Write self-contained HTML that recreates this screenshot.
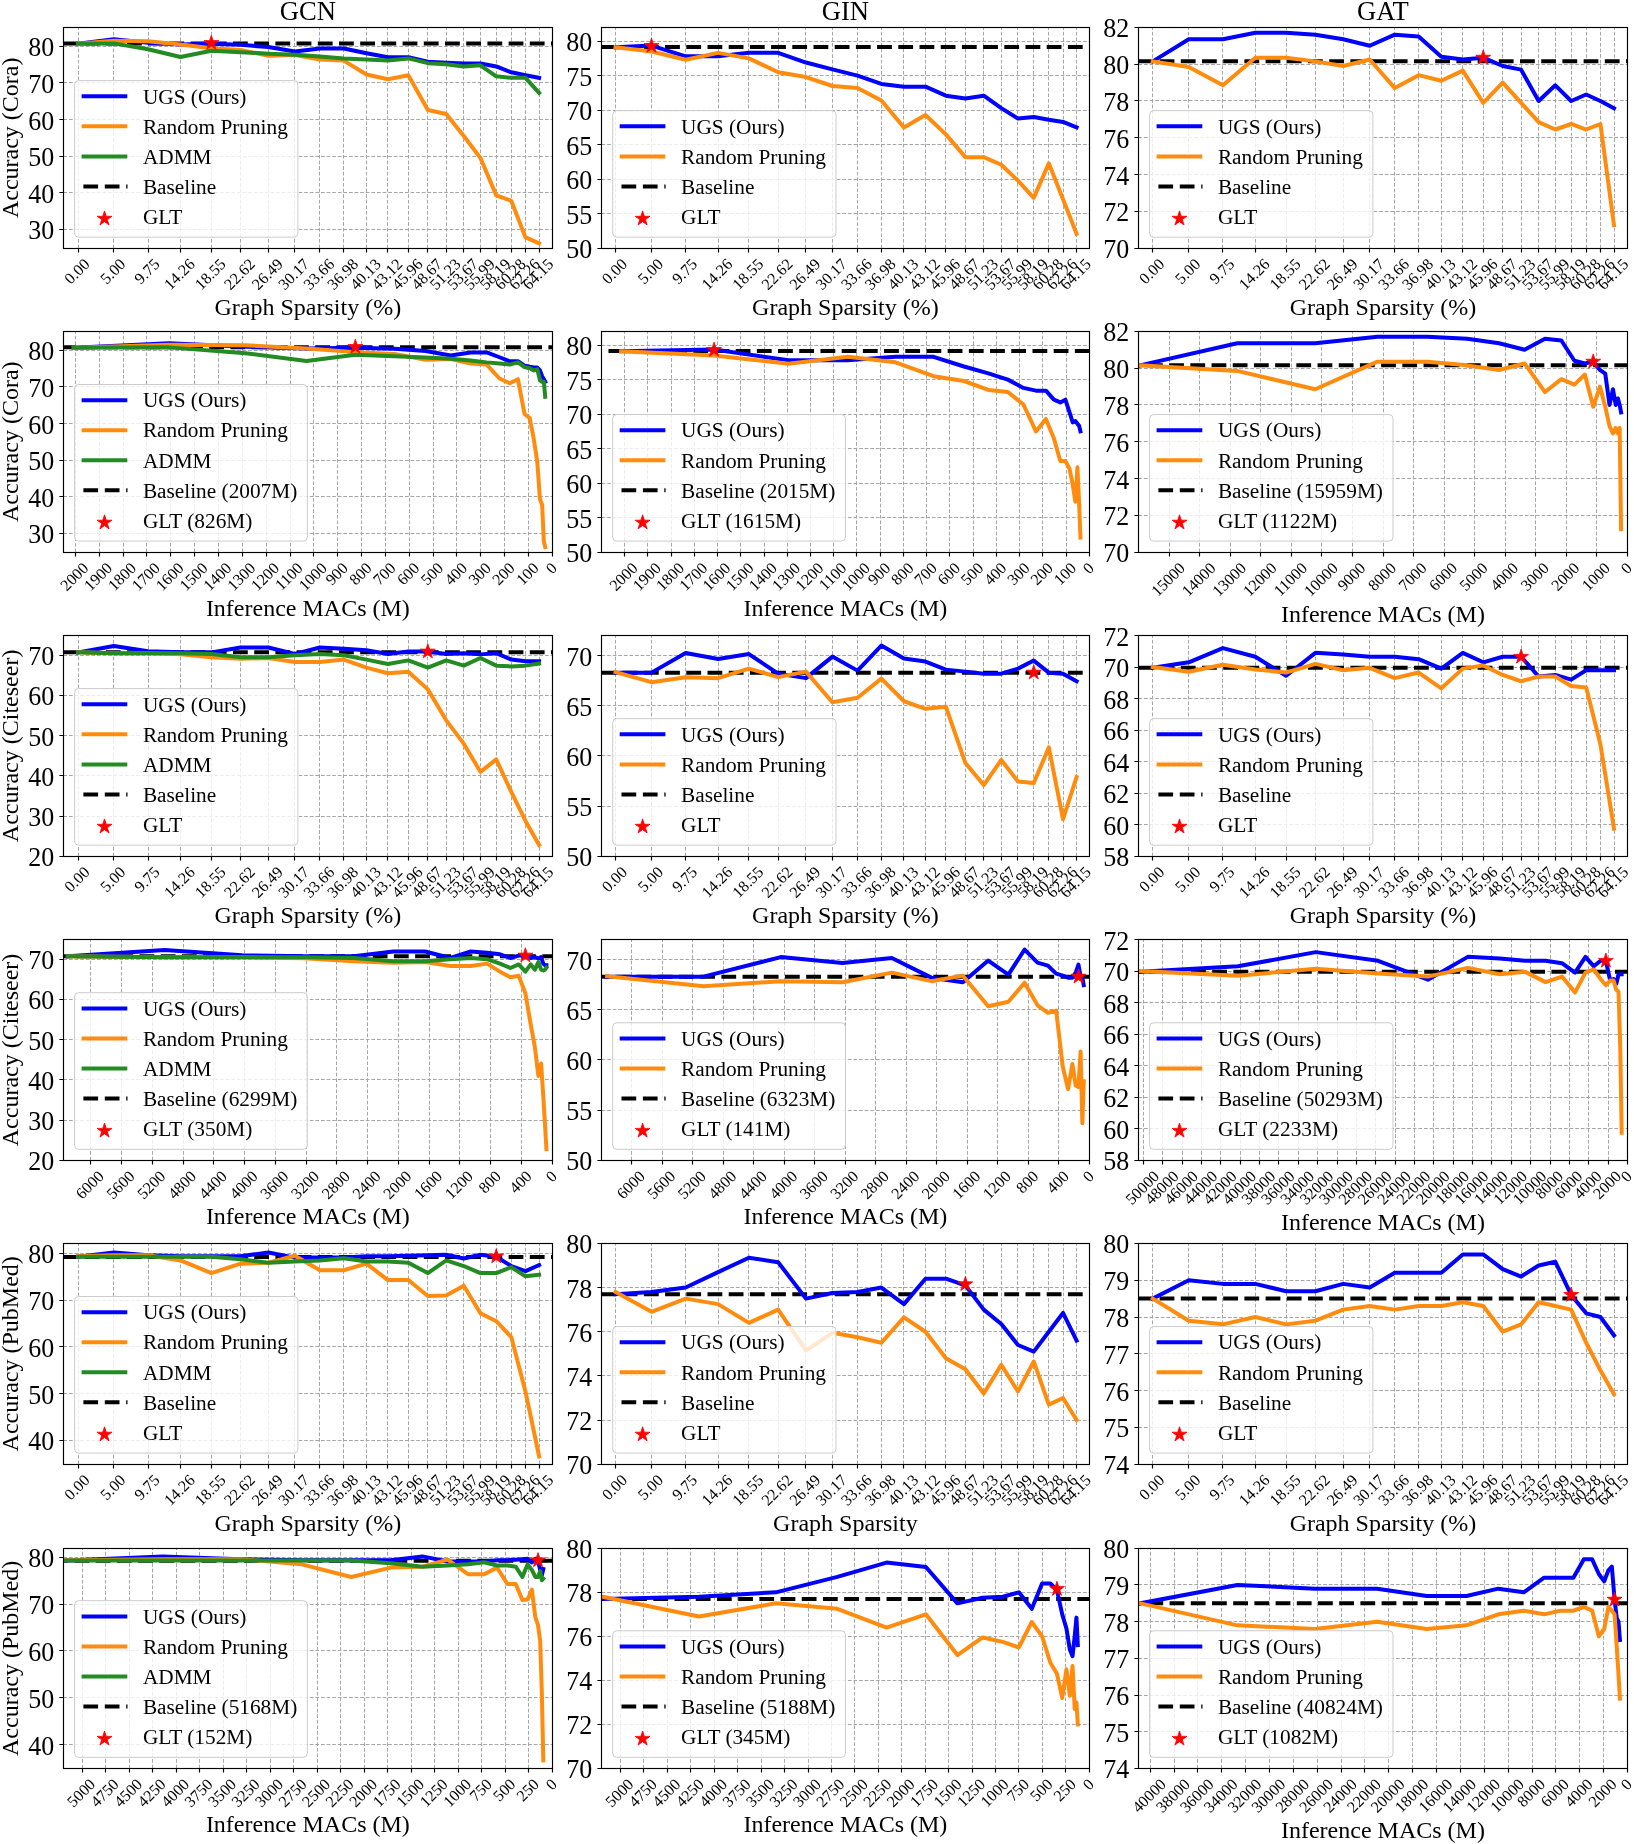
<!DOCTYPE html><html><head><meta charset="utf-8"><style>html,body{margin:0;padding:0;background:#fff;}svg{display:block;will-change:transform;}text{font-family:"Liberation Serif",serif;fill:#000;}</style></head><body>
<svg width="1634" height="1844" viewBox="0 0 1634 1844">
<rect width="1634" height="1844" fill="#fff"/>
<clipPath id="c00"><rect x="63.4" y="27.3" width="488.9" height="221.0"/></clipPath>
<path d="M78.50 248.30V27.30M113.50 248.30V27.30M148.50 248.30V27.30M180.50 248.30V27.30M211.50 248.30V27.30M240.50 248.30V27.30M268.50 248.30V27.30M294.50 248.30V27.30M319.50 248.30V27.30M343.50 248.30V27.30M366.50 248.30V27.30M387.50 248.30V27.30M408.50 248.30V27.30M427.50 248.30V27.30M446.50 248.30V27.30M463.50 248.30V27.30M480.50 248.30V27.30M496.50 248.30V27.30M511.50 248.30V27.30M525.50 248.30V27.30M539.50 248.30V27.30M63.40 229.50H552.30M63.40 192.50H552.30M63.40 156.50H552.30M63.40 119.50H552.30M63.40 82.50H552.30M63.40 46.50H552.30" stroke="#a6a6a6" stroke-width="1" stroke-dasharray="3.7 1.9" fill="none" clip-path="url(#c00)"/>
<g clip-path="url(#c00)">
<line x1="63.40" y1="43.38" x2="572.30" y2="43.38" stroke="#000" stroke-width="4" stroke-dasharray="14.8 6.4"/>
<polyline points="78.00,43.74 113.94,39.35 148.08,42.64 180.50,44.47 211.33,43.74 240.59,44.84 268.41,47.04 294.86,51.43 319.94,48.50 343.81,48.50 366.45,53.26 387.94,57.29 408.35,57.29 427.83,61.69 446.23,62.78 463.77,63.52 480.45,63.52 496.26,66.45 511.28,72.31 525.51,75.24 539.10,77.80" fill="none" stroke="#0000ff" stroke-width="4.0" stroke-linejoin="round" stroke-linecap="square"/>
<polyline points="78.00,43.74 113.94,40.81 148.08,41.18 180.50,44.47 211.33,48.14 240.59,49.97 268.41,55.83 294.86,55.09 319.94,59.49 343.81,60.59 366.45,74.50 387.94,79.26 408.35,75.24 427.83,110.02 446.23,114.05 463.77,136.02 480.45,158.00 496.26,195.35 511.28,200.84 525.51,237.46 539.10,243.32" fill="none" stroke="#ff8c0f" stroke-width="4.0" stroke-linejoin="round" stroke-linecap="square"/>
<polyline points="78.00,43.74 113.94,43.38 148.08,49.24 180.50,56.93 211.33,50.70 240.59,52.16 268.41,53.63 294.86,54.73 319.94,56.56 343.81,58.39 366.45,59.49 387.94,60.59 408.35,58.39 427.83,63.15 446.23,64.25 463.77,66.45 480.45,65.35 496.26,76.33 511.28,77.80 525.51,77.80 539.10,92.81" fill="none" stroke="#228b22" stroke-width="4.0" stroke-linejoin="round" stroke-linecap="square"/>
</g>
<polygon points="211.33,35.21 213.09,40.60 218.75,40.60 214.17,43.93 215.92,49.32 211.33,45.99 206.75,49.32 208.50,43.93 203.92,40.60 209.58,40.60" fill="#ff0000" stroke="#ff0000" stroke-width="0.8" stroke-linejoin="miter"/>
<rect x="63.50" y="27.50" width="489.00" height="221.00" fill="none" stroke="#000" stroke-width="1.15"/>
<path d="M78.50 248.50v4.1M113.50 248.50v4.1M148.50 248.50v4.1M180.50 248.50v4.1M211.50 248.50v4.1M240.50 248.50v4.1M268.50 248.50v4.1M294.50 248.50v4.1M319.50 248.50v4.1M343.50 248.50v4.1M366.50 248.50v4.1M387.50 248.50v4.1M408.50 248.50v4.1M427.50 248.50v4.1M446.50 248.50v4.1M463.50 248.50v4.1M480.50 248.50v4.1M496.50 248.50v4.1M511.50 248.50v4.1M525.50 248.50v4.1M539.50 248.50v4.1M63.50 229.50h-4.1M63.50 192.50h-4.1M63.50 156.50h-4.1M63.50 119.50h-4.1M63.50 82.50h-4.1M63.50 46.50h-4.1" stroke="#000" stroke-width="1.15" fill="none"/>
<text x="0" y="8.5" font-size="26" text-anchor="end" transform="translate(54.20 230.20) scale(1 1.085)">30</text>
<text x="0" y="8.5" font-size="26" text-anchor="end" transform="translate(54.20 193.58) scale(1 1.085)">40</text>
<text x="0" y="8.5" font-size="26" text-anchor="end" transform="translate(54.20 156.96) scale(1 1.085)">50</text>
<text x="0" y="8.5" font-size="26" text-anchor="end" transform="translate(54.20 120.35) scale(1 1.085)">60</text>
<text x="0" y="8.5" font-size="26" text-anchor="end" transform="translate(54.20 83.73) scale(1 1.085)">70</text>
<text x="0" y="8.5" font-size="26" text-anchor="end" transform="translate(54.20 47.11) scale(1 1.085)">80</text>
<text x="76.80" y="271.20" font-size="16" text-anchor="middle" dominant-baseline="central" transform="rotate(-45 76.80 271.20)">0.00</text>
<text x="112.74" y="271.20" font-size="16" text-anchor="middle" dominant-baseline="central" transform="rotate(-45 112.74 271.20)">5.00</text>
<text x="146.88" y="271.20" font-size="16" text-anchor="middle" dominant-baseline="central" transform="rotate(-45 146.88 271.20)">9.75</text>
<text x="179.30" y="274.03" font-size="16" text-anchor="middle" dominant-baseline="central" transform="rotate(-45 179.30 274.03)">14.26</text>
<text x="210.13" y="274.03" font-size="16" text-anchor="middle" dominant-baseline="central" transform="rotate(-45 210.13 274.03)">18.55</text>
<text x="239.39" y="274.03" font-size="16" text-anchor="middle" dominant-baseline="central" transform="rotate(-45 239.39 274.03)">22.62</text>
<text x="267.21" y="274.03" font-size="16" text-anchor="middle" dominant-baseline="central" transform="rotate(-45 267.21 274.03)">26.49</text>
<text x="293.66" y="274.03" font-size="16" text-anchor="middle" dominant-baseline="central" transform="rotate(-45 293.66 274.03)">30.17</text>
<text x="318.74" y="274.03" font-size="16" text-anchor="middle" dominant-baseline="central" transform="rotate(-45 318.74 274.03)">33.66</text>
<text x="342.61" y="274.03" font-size="16" text-anchor="middle" dominant-baseline="central" transform="rotate(-45 342.61 274.03)">36.98</text>
<text x="365.25" y="274.03" font-size="16" text-anchor="middle" dominant-baseline="central" transform="rotate(-45 365.25 274.03)">40.13</text>
<text x="386.74" y="274.03" font-size="16" text-anchor="middle" dominant-baseline="central" transform="rotate(-45 386.74 274.03)">43.12</text>
<text x="407.15" y="274.03" font-size="16" text-anchor="middle" dominant-baseline="central" transform="rotate(-45 407.15 274.03)">45.96</text>
<text x="426.63" y="274.03" font-size="16" text-anchor="middle" dominant-baseline="central" transform="rotate(-45 426.63 274.03)">48.67</text>
<text x="445.03" y="274.03" font-size="16" text-anchor="middle" dominant-baseline="central" transform="rotate(-45 445.03 274.03)">51.23</text>
<text x="462.57" y="274.03" font-size="16" text-anchor="middle" dominant-baseline="central" transform="rotate(-45 462.57 274.03)">53.67</text>
<text x="479.25" y="274.03" font-size="16" text-anchor="middle" dominant-baseline="central" transform="rotate(-45 479.25 274.03)">55.99</text>
<text x="495.06" y="274.03" font-size="16" text-anchor="middle" dominant-baseline="central" transform="rotate(-45 495.06 274.03)">58.19</text>
<text x="510.08" y="274.03" font-size="16" text-anchor="middle" dominant-baseline="central" transform="rotate(-45 510.08 274.03)">60.28</text>
<text x="524.31" y="274.03" font-size="16" text-anchor="middle" dominant-baseline="central" transform="rotate(-45 524.31 274.03)">62.26</text>
<text x="537.90" y="274.03" font-size="16" text-anchor="middle" dominant-baseline="central" transform="rotate(-45 537.90 274.03)">64.15</text>
<text x="307.85" y="315.06" font-size="24" text-anchor="middle">Graph Sparsity (%)</text>
<text x="17.6" y="137.80" font-size="24" text-anchor="middle" transform="rotate(-90 17.6 137.80)">Accuracy (Cora)</text>
<text x="0" y="0" font-size="26.6" text-anchor="middle" transform="translate(307.85 19.9) scale(1 1.03)">GCN</text>
<rect x="74.60" y="80.60" width="223.30" height="156.60" rx="4" ry="4" fill="#fff" fill-opacity="0.8" stroke="#cccccc" stroke-width="1"/>
<line x1="83.60" y1="96.30" x2="125.30" y2="96.30" stroke="#0000ff" stroke-width="4" stroke-linecap="square"/>
<text x="142.90" y="103.50" font-size="21.3">UGS (Ours)</text>
<line x1="83.60" y1="126.35" x2="125.30" y2="126.35" stroke="#ff8c0f" stroke-width="4" stroke-linecap="square"/>
<text x="142.90" y="133.55" font-size="21.3">Random Pruning</text>
<line x1="83.60" y1="156.40" x2="125.30" y2="156.40" stroke="#228b22" stroke-width="4" stroke-linecap="square"/>
<text x="142.90" y="163.60" font-size="21.3">ADMM</text>
<line x1="83.40" y1="186.45" x2="127.50" y2="186.45" stroke="#000" stroke-width="4" stroke-dasharray="14.7 6.7"/>
<text x="142.90" y="193.65" font-size="21.3">Baseline</text>
<polygon points="104.50,210.90 106.25,216.29 111.92,216.29 107.33,219.62 109.08,225.01 104.50,221.68 99.92,225.01 101.67,219.62 97.08,216.29 102.75,216.29" fill="#ff0000" stroke="#ff0000" stroke-width="0.8" stroke-linejoin="miter"/>
<text x="142.90" y="223.70" font-size="21.3">GLT</text>
<clipPath id="c01"><rect x="601.5" y="27.3" width="487.79999999999995" height="221.0"/></clipPath>
<path d="M615.50 248.30V27.30M651.50 248.30V27.30M685.50 248.30V27.30M718.50 248.30V27.30M748.50 248.30V27.30M778.50 248.30V27.30M805.50 248.30V27.30M832.50 248.30V27.30M857.50 248.30V27.30M881.50 248.30V27.30M903.50 248.30V27.30M925.50 248.30V27.30M945.50 248.30V27.30M965.50 248.30V27.30M983.50 248.30V27.30M1001.50 248.30V27.30M1017.50 248.30V27.30M1033.50 248.30V27.30M1048.50 248.30V27.30M1063.50 248.30V27.30M1076.50 248.30V27.30M601.50 248.50H1089.30M601.50 213.50H1089.30M601.50 179.50H1089.30M601.50 144.50H1089.30M601.50 110.50H1089.30M601.50 75.50H1089.30M601.50 41.50H1089.30" stroke="#a6a6a6" stroke-width="1" stroke-dasharray="3.7 1.9" fill="none" clip-path="url(#c01)"/>
<g clip-path="url(#c01)">
<line x1="601.50" y1="46.98" x2="1109.30" y2="46.98" stroke="#000" stroke-width="4" stroke-dasharray="14.8 6.4"/>
<polyline points="615.60,47.33 651.53,45.60 685.67,56.31 718.08,56.31 748.91,52.85 778.15,52.85 805.96,62.52 832.41,69.43 857.49,75.64 881.35,83.93 903.99,86.69 925.47,86.69 945.88,95.67 965.36,98.43 983.75,95.67 1001.29,108.10 1017.96,118.46 1033.77,117.08 1048.79,119.84 1063.02,121.92 1076.60,127.44" fill="none" stroke="#0000ff" stroke-width="4.0" stroke-linejoin="round" stroke-linecap="square"/>
<polyline points="615.60,47.33 651.53,51.47 685.67,59.76 718.08,52.85 748.91,58.38 778.15,72.19 805.96,77.03 832.41,86.00 857.49,88.07 881.35,100.51 903.99,127.44 925.47,115.01 945.88,134.35 965.36,157.14 983.75,157.14 1001.29,164.73 1017.96,180.62 1033.77,197.88 1048.79,163.35 1063.02,199.27 1076.60,233.80" fill="none" stroke="#ff8c0f" stroke-width="4.0" stroke-linejoin="round" stroke-linecap="square"/>
</g>
<polygon points="651.53,38.15 653.28,43.54 658.95,43.54 654.36,46.87 656.12,52.26 651.53,48.93 646.95,52.26 648.70,46.87 644.11,43.54 649.78,43.54" fill="#ff0000" stroke="#ff0000" stroke-width="0.8" stroke-linejoin="miter"/>
<rect x="601.50" y="27.50" width="488.00" height="221.00" fill="none" stroke="#000" stroke-width="1.15"/>
<path d="M615.50 248.50v4.1M651.50 248.50v4.1M685.50 248.50v4.1M718.50 248.50v4.1M748.50 248.50v4.1M778.50 248.50v4.1M805.50 248.50v4.1M832.50 248.50v4.1M857.50 248.50v4.1M881.50 248.50v4.1M903.50 248.50v4.1M925.50 248.50v4.1M945.50 248.50v4.1M965.50 248.50v4.1M983.50 248.50v4.1M1001.50 248.50v4.1M1017.50 248.50v4.1M1033.50 248.50v4.1M1048.50 248.50v4.1M1063.50 248.50v4.1M1076.50 248.50v4.1M601.50 248.50h-4.1M601.50 213.50h-4.1M601.50 179.50h-4.1M601.50 144.50h-4.1M601.50 110.50h-4.1M601.50 75.50h-4.1M601.50 41.50h-4.1" stroke="#000" stroke-width="1.15" fill="none"/>
<text x="0" y="8.5" font-size="26" text-anchor="end" transform="translate(592.30 249.10) scale(1 1.085)">50</text>
<text x="0" y="8.5" font-size="26" text-anchor="end" transform="translate(592.30 214.57) scale(1 1.085)">55</text>
<text x="0" y="8.5" font-size="26" text-anchor="end" transform="translate(592.30 180.04) scale(1 1.085)">60</text>
<text x="0" y="8.5" font-size="26" text-anchor="end" transform="translate(592.30 145.51) scale(1 1.085)">65</text>
<text x="0" y="8.5" font-size="26" text-anchor="end" transform="translate(592.30 110.98) scale(1 1.085)">70</text>
<text x="0" y="8.5" font-size="26" text-anchor="end" transform="translate(592.30 76.44) scale(1 1.085)">75</text>
<text x="0" y="8.5" font-size="26" text-anchor="end" transform="translate(592.30 41.91) scale(1 1.085)">80</text>
<text x="614.40" y="271.20" font-size="16" text-anchor="middle" dominant-baseline="central" transform="rotate(-45 614.40 271.20)">0.00</text>
<text x="650.33" y="271.20" font-size="16" text-anchor="middle" dominant-baseline="central" transform="rotate(-45 650.33 271.20)">5.00</text>
<text x="684.47" y="271.20" font-size="16" text-anchor="middle" dominant-baseline="central" transform="rotate(-45 684.47 271.20)">9.75</text>
<text x="716.88" y="274.03" font-size="16" text-anchor="middle" dominant-baseline="central" transform="rotate(-45 716.88 274.03)">14.26</text>
<text x="747.71" y="274.03" font-size="16" text-anchor="middle" dominant-baseline="central" transform="rotate(-45 747.71 274.03)">18.55</text>
<text x="776.95" y="274.03" font-size="16" text-anchor="middle" dominant-baseline="central" transform="rotate(-45 776.95 274.03)">22.62</text>
<text x="804.76" y="274.03" font-size="16" text-anchor="middle" dominant-baseline="central" transform="rotate(-45 804.76 274.03)">26.49</text>
<text x="831.21" y="274.03" font-size="16" text-anchor="middle" dominant-baseline="central" transform="rotate(-45 831.21 274.03)">30.17</text>
<text x="856.29" y="274.03" font-size="16" text-anchor="middle" dominant-baseline="central" transform="rotate(-45 856.29 274.03)">33.66</text>
<text x="880.15" y="274.03" font-size="16" text-anchor="middle" dominant-baseline="central" transform="rotate(-45 880.15 274.03)">36.98</text>
<text x="902.79" y="274.03" font-size="16" text-anchor="middle" dominant-baseline="central" transform="rotate(-45 902.79 274.03)">40.13</text>
<text x="924.27" y="274.03" font-size="16" text-anchor="middle" dominant-baseline="central" transform="rotate(-45 924.27 274.03)">43.12</text>
<text x="944.68" y="274.03" font-size="16" text-anchor="middle" dominant-baseline="central" transform="rotate(-45 944.68 274.03)">45.96</text>
<text x="964.16" y="274.03" font-size="16" text-anchor="middle" dominant-baseline="central" transform="rotate(-45 964.16 274.03)">48.67</text>
<text x="982.55" y="274.03" font-size="16" text-anchor="middle" dominant-baseline="central" transform="rotate(-45 982.55 274.03)">51.23</text>
<text x="1000.09" y="274.03" font-size="16" text-anchor="middle" dominant-baseline="central" transform="rotate(-45 1000.09 274.03)">53.67</text>
<text x="1016.76" y="274.03" font-size="16" text-anchor="middle" dominant-baseline="central" transform="rotate(-45 1016.76 274.03)">55.99</text>
<text x="1032.57" y="274.03" font-size="16" text-anchor="middle" dominant-baseline="central" transform="rotate(-45 1032.57 274.03)">58.19</text>
<text x="1047.59" y="274.03" font-size="16" text-anchor="middle" dominant-baseline="central" transform="rotate(-45 1047.59 274.03)">60.28</text>
<text x="1061.82" y="274.03" font-size="16" text-anchor="middle" dominant-baseline="central" transform="rotate(-45 1061.82 274.03)">62.26</text>
<text x="1075.40" y="274.03" font-size="16" text-anchor="middle" dominant-baseline="central" transform="rotate(-45 1075.40 274.03)">64.15</text>
<text x="845.40" y="315.06" font-size="24" text-anchor="middle">Graph Sparsity (%)</text>
<text x="0" y="0" font-size="26.6" text-anchor="middle" transform="translate(845.40 19.9) scale(1 1.03)">GIN</text>
<rect x="612.70" y="110.65" width="223.30" height="126.55" rx="4" ry="4" fill="#fff" fill-opacity="0.8" stroke="#cccccc" stroke-width="1"/>
<line x1="621.70" y1="126.35" x2="663.40" y2="126.35" stroke="#0000ff" stroke-width="4" stroke-linecap="square"/>
<text x="681.00" y="133.55" font-size="21.3">UGS (Ours)</text>
<line x1="621.70" y1="156.40" x2="663.40" y2="156.40" stroke="#ff8c0f" stroke-width="4" stroke-linecap="square"/>
<text x="681.00" y="163.60" font-size="21.3">Random Pruning</text>
<line x1="621.50" y1="186.45" x2="665.60" y2="186.45" stroke="#000" stroke-width="4" stroke-dasharray="14.7 6.7"/>
<text x="681.00" y="193.65" font-size="21.3">Baseline</text>
<polygon points="642.60,210.90 644.35,216.29 650.02,216.29 645.43,219.62 647.18,225.01 642.60,221.68 638.02,225.01 639.77,219.62 635.18,216.29 640.85,216.29" fill="#ff0000" stroke="#ff0000" stroke-width="0.8" stroke-linejoin="miter"/>
<text x="681.00" y="223.70" font-size="21.3">GLT</text>
<clipPath id="c02"><rect x="1138.4" y="27.3" width="489.0999999999999" height="221.0"/></clipPath>
<path d="M1152.50 248.30V27.30M1188.50 248.30V27.30M1222.50 248.30V27.30M1255.50 248.30V27.30M1286.50 248.30V27.30M1315.50 248.30V27.30M1343.50 248.30V27.30M1369.50 248.30V27.30M1394.50 248.30V27.30M1418.50 248.30V27.30M1441.50 248.30V27.30M1462.50 248.30V27.30M1483.50 248.30V27.30M1502.50 248.30V27.30M1521.50 248.30V27.30M1538.50 248.30V27.30M1555.50 248.30V27.30M1571.50 248.30V27.30M1586.50 248.30V27.30M1600.50 248.30V27.30M1614.50 248.30V27.30M1138.40 248.50H1627.50M1138.40 211.50H1627.50M1138.40 174.50H1627.50M1138.40 137.50H1627.50M1138.40 100.50H1627.50M1138.40 64.50H1627.50M1138.40 27.50H1627.50" stroke="#a6a6a6" stroke-width="1" stroke-dasharray="3.7 1.9" fill="none" clip-path="url(#c02)"/>
<g clip-path="url(#c02)">
<line x1="1138.40" y1="61.37" x2="1647.50" y2="61.37" stroke="#000" stroke-width="4" stroke-dasharray="14.8 6.4"/>
<polyline points="1152.80,61.37 1188.75,39.27 1222.90,39.27 1255.32,32.82 1286.16,32.82 1315.42,34.67 1343.25,39.27 1369.70,45.72 1394.80,34.67 1418.66,36.51 1441.31,56.77 1462.81,59.53 1483.22,57.69 1502.71,65.97 1521.11,69.66 1538.66,100.97 1555.33,85.31 1571.15,100.97 1586.18,94.52 1600.41,100.97 1614.00,108.33" fill="none" stroke="#0000ff" stroke-width="4.0" stroke-linejoin="round" stroke-linecap="square"/>
<polyline points="1152.80,61.37 1188.75,66.90 1222.90,85.31 1255.32,57.69 1286.16,57.69 1315.42,61.37 1343.25,65.97 1369.70,59.53 1394.80,88.07 1418.66,75.18 1441.31,80.71 1462.81,70.58 1483.22,102.81 1502.71,82.55 1521.11,102.81 1538.66,122.15 1555.33,129.51 1571.15,123.99 1586.18,129.51 1600.41,123.99 1614.00,225.28" fill="none" stroke="#ff8c0f" stroke-width="4.0" stroke-linejoin="round" stroke-linecap="square"/>
</g>
<polygon points="1483.22,49.89 1484.98,55.28 1490.64,55.28 1486.06,58.61 1487.81,64.00 1483.22,60.67 1478.64,64.00 1480.39,58.61 1475.81,55.28 1481.47,55.28" fill="#ff0000" stroke="#ff0000" stroke-width="0.8" stroke-linejoin="miter"/>
<rect x="1138.50" y="27.50" width="489.00" height="221.00" fill="none" stroke="#000" stroke-width="1.15"/>
<path d="M1152.50 248.50v4.1M1188.50 248.50v4.1M1222.50 248.50v4.1M1255.50 248.50v4.1M1286.50 248.50v4.1M1315.50 248.50v4.1M1343.50 248.50v4.1M1369.50 248.50v4.1M1394.50 248.50v4.1M1418.50 248.50v4.1M1441.50 248.50v4.1M1462.50 248.50v4.1M1483.50 248.50v4.1M1502.50 248.50v4.1M1521.50 248.50v4.1M1538.50 248.50v4.1M1555.50 248.50v4.1M1571.50 248.50v4.1M1586.50 248.50v4.1M1600.50 248.50v4.1M1614.50 248.50v4.1M1138.50 248.50h-4.1M1138.50 211.50h-4.1M1138.50 174.50h-4.1M1138.50 137.50h-4.1M1138.50 100.50h-4.1M1138.50 64.50h-4.1M1138.50 27.50h-4.1" stroke="#000" stroke-width="1.15" fill="none"/>
<text x="0" y="8.5" font-size="26" text-anchor="end" transform="translate(1129.20 249.10) scale(1 1.085)">70</text>
<text x="0" y="8.5" font-size="26" text-anchor="end" transform="translate(1129.20 212.27) scale(1 1.085)">72</text>
<text x="0" y="8.5" font-size="26" text-anchor="end" transform="translate(1129.20 175.43) scale(1 1.085)">74</text>
<text x="0" y="8.5" font-size="26" text-anchor="end" transform="translate(1129.20 138.60) scale(1 1.085)">76</text>
<text x="0" y="8.5" font-size="26" text-anchor="end" transform="translate(1129.20 101.77) scale(1 1.085)">78</text>
<text x="0" y="8.5" font-size="26" text-anchor="end" transform="translate(1129.20 64.93) scale(1 1.085)">80</text>
<text x="0" y="8.5" font-size="26" text-anchor="end" transform="translate(1129.20 28.10) scale(1 1.085)">82</text>
<text x="1151.60" y="271.20" font-size="16" text-anchor="middle" dominant-baseline="central" transform="rotate(-45 1151.60 271.20)">0.00</text>
<text x="1187.55" y="271.20" font-size="16" text-anchor="middle" dominant-baseline="central" transform="rotate(-45 1187.55 271.20)">5.00</text>
<text x="1221.70" y="271.20" font-size="16" text-anchor="middle" dominant-baseline="central" transform="rotate(-45 1221.70 271.20)">9.75</text>
<text x="1254.12" y="274.03" font-size="16" text-anchor="middle" dominant-baseline="central" transform="rotate(-45 1254.12 274.03)">14.26</text>
<text x="1284.96" y="274.03" font-size="16" text-anchor="middle" dominant-baseline="central" transform="rotate(-45 1284.96 274.03)">18.55</text>
<text x="1314.22" y="274.03" font-size="16" text-anchor="middle" dominant-baseline="central" transform="rotate(-45 1314.22 274.03)">22.62</text>
<text x="1342.05" y="274.03" font-size="16" text-anchor="middle" dominant-baseline="central" transform="rotate(-45 1342.05 274.03)">26.49</text>
<text x="1368.50" y="274.03" font-size="16" text-anchor="middle" dominant-baseline="central" transform="rotate(-45 1368.50 274.03)">30.17</text>
<text x="1393.60" y="274.03" font-size="16" text-anchor="middle" dominant-baseline="central" transform="rotate(-45 1393.60 274.03)">33.66</text>
<text x="1417.46" y="274.03" font-size="16" text-anchor="middle" dominant-baseline="central" transform="rotate(-45 1417.46 274.03)">36.98</text>
<text x="1440.11" y="274.03" font-size="16" text-anchor="middle" dominant-baseline="central" transform="rotate(-45 1440.11 274.03)">40.13</text>
<text x="1461.61" y="274.03" font-size="16" text-anchor="middle" dominant-baseline="central" transform="rotate(-45 1461.61 274.03)">43.12</text>
<text x="1482.02" y="274.03" font-size="16" text-anchor="middle" dominant-baseline="central" transform="rotate(-45 1482.02 274.03)">45.96</text>
<text x="1501.51" y="274.03" font-size="16" text-anchor="middle" dominant-baseline="central" transform="rotate(-45 1501.51 274.03)">48.67</text>
<text x="1519.91" y="274.03" font-size="16" text-anchor="middle" dominant-baseline="central" transform="rotate(-45 1519.91 274.03)">51.23</text>
<text x="1537.46" y="274.03" font-size="16" text-anchor="middle" dominant-baseline="central" transform="rotate(-45 1537.46 274.03)">53.67</text>
<text x="1554.13" y="274.03" font-size="16" text-anchor="middle" dominant-baseline="central" transform="rotate(-45 1554.13 274.03)">55.99</text>
<text x="1569.95" y="274.03" font-size="16" text-anchor="middle" dominant-baseline="central" transform="rotate(-45 1569.95 274.03)">58.19</text>
<text x="1584.98" y="274.03" font-size="16" text-anchor="middle" dominant-baseline="central" transform="rotate(-45 1584.98 274.03)">60.28</text>
<text x="1599.21" y="274.03" font-size="16" text-anchor="middle" dominant-baseline="central" transform="rotate(-45 1599.21 274.03)">62.26</text>
<text x="1612.80" y="274.03" font-size="16" text-anchor="middle" dominant-baseline="central" transform="rotate(-45 1612.80 274.03)">64.15</text>
<text x="1382.95" y="315.06" font-size="24" text-anchor="middle">Graph Sparsity (%)</text>
<text x="0" y="0" font-size="26.6" text-anchor="middle" transform="translate(1382.95 19.9) scale(1 1.03)">GAT</text>
<rect x="1149.60" y="110.65" width="223.30" height="126.55" rx="4" ry="4" fill="#fff" fill-opacity="0.8" stroke="#cccccc" stroke-width="1"/>
<line x1="1158.60" y1="126.35" x2="1200.30" y2="126.35" stroke="#0000ff" stroke-width="4" stroke-linecap="square"/>
<text x="1217.90" y="133.55" font-size="21.3">UGS (Ours)</text>
<line x1="1158.60" y1="156.40" x2="1200.30" y2="156.40" stroke="#ff8c0f" stroke-width="4" stroke-linecap="square"/>
<text x="1217.90" y="163.60" font-size="21.3">Random Pruning</text>
<line x1="1158.40" y1="186.45" x2="1202.50" y2="186.45" stroke="#000" stroke-width="4" stroke-dasharray="14.7 6.7"/>
<text x="1217.90" y="193.65" font-size="21.3">Baseline</text>
<polygon points="1179.50,210.90 1181.25,216.29 1186.92,216.29 1182.33,219.62 1184.08,225.01 1179.50,221.68 1174.92,225.01 1176.67,219.62 1172.08,216.29 1177.75,216.29" fill="#ff0000" stroke="#ff0000" stroke-width="0.8" stroke-linejoin="miter"/>
<text x="1217.90" y="223.70" font-size="21.3">GLT</text>
<clipPath id="c10"><rect x="63.4" y="331.3" width="488.9" height="220.90000000000003"/></clipPath>
<path d="M75.50 552.20V331.30M99.50 552.20V331.30M123.50 552.20V331.30M146.50 552.20V331.30M170.50 552.20V331.30M194.50 552.20V331.30M218.50 552.20V331.30M242.50 552.20V331.30M266.50 552.20V331.30M290.50 552.20V331.30M313.50 552.20V331.30M337.50 552.20V331.30M361.50 552.20V331.30M385.50 552.20V331.30M409.50 552.20V331.30M433.50 552.20V331.30M456.50 552.20V331.30M480.50 552.20V331.30M504.50 552.20V331.30M528.50 552.20V331.30M552.50 552.20V331.30M63.40 533.50H552.30M63.40 496.50H552.30M63.40 460.50H552.30M63.40 423.50H552.30M63.40 386.50H552.30M63.40 350.50H552.30" stroke="#a6a6a6" stroke-width="1" stroke-dasharray="3.7 1.9" fill="none" clip-path="url(#c10)"/>
<g clip-path="url(#c10)">
<line x1="60.81" y1="347.37" x2="572.30" y2="347.37" stroke="#000" stroke-width="4" stroke-dasharray="14.8 6.4"/>
<polyline points="73.73,347.73 169.13,343.34 245.44,346.64 306.50,348.47 355.34,347.73 394.41,348.83 425.67,351.03 450.68,355.42 470.69,352.49 486.69,352.49 499.50,357.25 509.74,361.28 517.93,361.28 524.49,365.67 529.73,366.77 533.93,367.50 537.29,367.50 539.97,370.43 542.12,376.29 543.84,379.21 545.21,381.78" fill="none" stroke="#0000ff" stroke-width="4.0" stroke-linejoin="round" stroke-linecap="square"/>
<polyline points="73.73,347.73 169.13,344.81 245.44,345.17 306.50,348.47 355.34,352.13 394.41,353.96 425.67,359.81 450.68,359.08 470.69,363.47 486.69,364.57 499.50,378.48 509.74,383.24 517.93,379.21 524.49,413.99 529.73,418.01 533.93,439.97 537.29,461.94 539.97,499.27 542.12,504.76 543.84,541.37 545.21,547.22" fill="none" stroke="#ff8c0f" stroke-width="4.0" stroke-linejoin="round" stroke-linecap="square"/>
<polyline points="73.73,347.73 169.13,347.37 245.44,353.23 306.50,360.91 355.34,354.69 394.41,356.15 425.67,357.62 450.68,358.72 470.69,360.55 486.69,362.38 499.50,363.47 509.74,364.57 517.93,362.38 524.49,367.13 529.73,368.23 533.93,370.43 537.29,369.33 539.97,380.31 542.12,381.78 543.84,381.78 545.21,396.78" fill="none" stroke="#228b22" stroke-width="4.0" stroke-linejoin="round" stroke-linecap="square"/>
</g>
<polygon points="355.34,339.20 357.09,344.59 362.76,344.59 358.17,347.92 359.93,353.31 355.34,349.98 350.76,353.31 352.51,347.92 347.92,344.59 353.59,344.59" fill="#ff0000" stroke="#ff0000" stroke-width="0.8" stroke-linejoin="miter"/>
<rect x="63.50" y="331.50" width="489.00" height="221.00" fill="none" stroke="#000" stroke-width="1.15"/>
<path d="M75.50 552.50v4.1M99.50 552.50v4.1M123.50 552.50v4.1M146.50 552.50v4.1M170.50 552.50v4.1M194.50 552.50v4.1M218.50 552.50v4.1M242.50 552.50v4.1M266.50 552.50v4.1M290.50 552.50v4.1M313.50 552.50v4.1M337.50 552.50v4.1M361.50 552.50v4.1M385.50 552.50v4.1M409.50 552.50v4.1M433.50 552.50v4.1M456.50 552.50v4.1M480.50 552.50v4.1M504.50 552.50v4.1M528.50 552.50v4.1M552.50 552.50v4.1M63.50 533.50h-4.1M63.50 496.50h-4.1M63.50 460.50h-4.1M63.50 423.50h-4.1M63.50 386.50h-4.1M63.50 350.50h-4.1" stroke="#000" stroke-width="1.15" fill="none"/>
<text x="0" y="8.5" font-size="26" text-anchor="end" transform="translate(54.20 534.11) scale(1 1.085)">30</text>
<text x="0" y="8.5" font-size="26" text-anchor="end" transform="translate(54.20 497.51) scale(1 1.085)">40</text>
<text x="0" y="8.5" font-size="26" text-anchor="end" transform="translate(54.20 460.91) scale(1 1.085)">50</text>
<text x="0" y="8.5" font-size="26" text-anchor="end" transform="translate(54.20 424.30) scale(1 1.085)">60</text>
<text x="0" y="8.5" font-size="26" text-anchor="end" transform="translate(54.20 387.70) scale(1 1.085)">70</text>
<text x="0" y="8.5" font-size="26" text-anchor="end" transform="translate(54.20 351.10) scale(1 1.085)">80</text>
<text x="74.20" y="576.52" font-size="16" text-anchor="middle" dominant-baseline="central" transform="rotate(-45 74.20 576.52)">2000</text>
<text x="98.04" y="576.52" font-size="16" text-anchor="middle" dominant-baseline="central" transform="rotate(-45 98.04 576.52)">1900</text>
<text x="121.89" y="576.52" font-size="16" text-anchor="middle" dominant-baseline="central" transform="rotate(-45 121.89 576.52)">1800</text>
<text x="145.73" y="576.52" font-size="16" text-anchor="middle" dominant-baseline="central" transform="rotate(-45 145.73 576.52)">1700</text>
<text x="169.58" y="576.52" font-size="16" text-anchor="middle" dominant-baseline="central" transform="rotate(-45 169.58 576.52)">1600</text>
<text x="193.42" y="576.52" font-size="16" text-anchor="middle" dominant-baseline="central" transform="rotate(-45 193.42 576.52)">1500</text>
<text x="217.27" y="576.52" font-size="16" text-anchor="middle" dominant-baseline="central" transform="rotate(-45 217.27 576.52)">1400</text>
<text x="241.11" y="576.52" font-size="16" text-anchor="middle" dominant-baseline="central" transform="rotate(-45 241.11 576.52)">1300</text>
<text x="264.96" y="576.52" font-size="16" text-anchor="middle" dominant-baseline="central" transform="rotate(-45 264.96 576.52)">1200</text>
<text x="288.80" y="576.31" font-size="16" text-anchor="middle" dominant-baseline="central" transform="rotate(-45 288.80 576.31)">1100</text>
<text x="312.65" y="576.52" font-size="16" text-anchor="middle" dominant-baseline="central" transform="rotate(-45 312.65 576.52)">1000</text>
<text x="336.49" y="573.69" font-size="16" text-anchor="middle" dominant-baseline="central" transform="rotate(-45 336.49 573.69)">900</text>
<text x="360.34" y="573.69" font-size="16" text-anchor="middle" dominant-baseline="central" transform="rotate(-45 360.34 573.69)">800</text>
<text x="384.19" y="573.69" font-size="16" text-anchor="middle" dominant-baseline="central" transform="rotate(-45 384.19 573.69)">700</text>
<text x="408.03" y="573.69" font-size="16" text-anchor="middle" dominant-baseline="central" transform="rotate(-45 408.03 573.69)">600</text>
<text x="431.87" y="573.69" font-size="16" text-anchor="middle" dominant-baseline="central" transform="rotate(-45 431.87 573.69)">500</text>
<text x="455.72" y="573.69" font-size="16" text-anchor="middle" dominant-baseline="central" transform="rotate(-45 455.72 573.69)">400</text>
<text x="479.56" y="573.69" font-size="16" text-anchor="middle" dominant-baseline="central" transform="rotate(-45 479.56 573.69)">300</text>
<text x="503.41" y="573.69" font-size="16" text-anchor="middle" dominant-baseline="central" transform="rotate(-45 503.41 573.69)">200</text>
<text x="527.25" y="573.69" font-size="16" text-anchor="middle" dominant-baseline="central" transform="rotate(-45 527.25 573.69)">100</text>
<text x="551.10" y="568.03" font-size="16" text-anchor="middle" dominant-baseline="central" transform="rotate(-45 551.10 568.03)">0</text>
<text x="307.85" y="616.13" font-size="24" text-anchor="middle">Inference MACs (M)</text>
<text x="17.6" y="441.75" font-size="24" text-anchor="middle" transform="rotate(-90 17.6 441.75)">Accuracy (Cora)</text>
<rect x="74.60" y="384.50" width="232.72" height="156.60" rx="4" ry="4" fill="#fff" fill-opacity="0.8" stroke="#cccccc" stroke-width="1"/>
<line x1="83.60" y1="400.20" x2="125.30" y2="400.20" stroke="#0000ff" stroke-width="4" stroke-linecap="square"/>
<text x="142.90" y="407.40" font-size="21.3">UGS (Ours)</text>
<line x1="83.60" y1="430.25" x2="125.30" y2="430.25" stroke="#ff8c0f" stroke-width="4" stroke-linecap="square"/>
<text x="142.90" y="437.45" font-size="21.3">Random Pruning</text>
<line x1="83.60" y1="460.30" x2="125.30" y2="460.30" stroke="#228b22" stroke-width="4" stroke-linecap="square"/>
<text x="142.90" y="467.50" font-size="21.3">ADMM</text>
<line x1="83.40" y1="490.35" x2="127.50" y2="490.35" stroke="#000" stroke-width="4" stroke-dasharray="14.7 6.7"/>
<text x="142.90" y="497.55" font-size="21.3">Baseline (2007M)</text>
<polygon points="104.50,514.80 106.25,520.19 111.92,520.19 107.33,523.52 109.08,528.91 104.50,525.58 99.92,528.91 101.67,523.52 97.08,520.19 102.75,520.19" fill="#ff0000" stroke="#ff0000" stroke-width="0.8" stroke-linejoin="miter"/>
<text x="142.90" y="527.60" font-size="21.3">GLT (826M)</text>
<clipPath id="c11"><rect x="601.5" y="331.3" width="487.79999999999995" height="220.90000000000003"/></clipPath>
<path d="M624.50 552.20V331.30M647.50 552.20V331.30M671.50 552.20V331.30M694.50 552.20V331.30M717.50 552.20V331.30M740.50 552.20V331.30M764.50 552.20V331.30M787.50 552.20V331.30M810.50 552.20V331.30M833.50 552.20V331.30M856.50 552.20V331.30M880.50 552.20V331.30M903.50 552.20V331.30M926.50 552.20V331.30M949.50 552.20V331.30M973.50 552.20V331.30M996.50 552.20V331.30M1019.50 552.20V331.30M1042.50 552.20V331.30M1066.50 552.20V331.30M1089.50 552.20V331.30M601.50 552.50H1089.30M601.50 517.50H1089.30M601.50 483.50H1089.30M601.50 448.50H1089.30M601.50 414.50H1089.30M601.50 379.50H1089.30M601.50 345.50H1089.30" stroke="#a6a6a6" stroke-width="1" stroke-dasharray="3.7 1.9" fill="none" clip-path="url(#c11)"/>
<g clip-path="url(#c11)">
<line x1="608.47" y1="350.97" x2="1109.30" y2="350.97" stroke="#000" stroke-width="4" stroke-dasharray="14.8 6.4"/>
<polyline points="621.11,351.32 714.05,349.59 788.41,360.29 847.89,360.29 895.47,356.84 933.54,356.84 964.00,366.51 988.36,373.41 1007.85,379.62 1023.44,387.91 1035.92,390.67 1045.90,390.67 1053.88,399.64 1060.27,402.40 1065.38,399.64 1069.46,412.07 1072.73,422.42 1075.35,421.04 1077.44,423.80 1079.12,425.87 1080.46,431.40" fill="none" stroke="#0000ff" stroke-width="4.0" stroke-linejoin="round" stroke-linecap="square"/>
<polyline points="621.11,351.32 714.05,355.46 788.41,363.74 847.89,356.84 895.47,362.36 933.54,376.17 964.00,381.00 988.36,389.98 1007.85,392.05 1023.44,404.47 1035.92,431.40 1045.90,418.97 1053.88,438.30 1060.27,461.08 1065.38,461.08 1069.46,468.67 1072.73,484.55 1075.35,501.81 1077.44,467.29 1079.12,503.19 1080.46,537.70" fill="none" stroke="#ff8c0f" stroke-width="4.0" stroke-linejoin="round" stroke-linecap="square"/>
</g>
<polygon points="714.05,342.14 715.81,347.53 721.47,347.53 716.89,350.86 718.64,356.25 714.05,352.92 709.47,356.25 711.22,350.86 706.64,347.53 712.30,347.53" fill="#ff0000" stroke="#ff0000" stroke-width="0.8" stroke-linejoin="miter"/>
<rect x="601.50" y="331.50" width="488.00" height="221.00" fill="none" stroke="#000" stroke-width="1.15"/>
<path d="M624.50 552.50v4.1M647.50 552.50v4.1M671.50 552.50v4.1M694.50 552.50v4.1M717.50 552.50v4.1M740.50 552.50v4.1M764.50 552.50v4.1M787.50 552.50v4.1M810.50 552.50v4.1M833.50 552.50v4.1M856.50 552.50v4.1M880.50 552.50v4.1M903.50 552.50v4.1M926.50 552.50v4.1M949.50 552.50v4.1M973.50 552.50v4.1M996.50 552.50v4.1M1019.50 552.50v4.1M1042.50 552.50v4.1M1066.50 552.50v4.1M1089.50 552.50v4.1M601.50 552.50h-4.1M601.50 517.50h-4.1M601.50 483.50h-4.1M601.50 448.50h-4.1M601.50 414.50h-4.1M601.50 379.50h-4.1M601.50 345.50h-4.1" stroke="#000" stroke-width="1.15" fill="none"/>
<text x="0" y="8.5" font-size="26" text-anchor="end" transform="translate(592.30 553.00) scale(1 1.085)">50</text>
<text x="0" y="8.5" font-size="26" text-anchor="end" transform="translate(592.30 518.48) scale(1 1.085)">55</text>
<text x="0" y="8.5" font-size="26" text-anchor="end" transform="translate(592.30 483.97) scale(1 1.085)">60</text>
<text x="0" y="8.5" font-size="26" text-anchor="end" transform="translate(592.30 449.45) scale(1 1.085)">65</text>
<text x="0" y="8.5" font-size="26" text-anchor="end" transform="translate(592.30 414.94) scale(1 1.085)">70</text>
<text x="0" y="8.5" font-size="26" text-anchor="end" transform="translate(592.30 380.42) scale(1 1.085)">75</text>
<text x="0" y="8.5" font-size="26" text-anchor="end" transform="translate(592.30 345.91) scale(1 1.085)">80</text>
<text x="623.40" y="576.52" font-size="16" text-anchor="middle" dominant-baseline="central" transform="rotate(-45 623.40 576.52)">2000</text>
<text x="646.63" y="576.52" font-size="16" text-anchor="middle" dominant-baseline="central" transform="rotate(-45 646.63 576.52)">1900</text>
<text x="669.87" y="576.52" font-size="16" text-anchor="middle" dominant-baseline="central" transform="rotate(-45 669.87 576.52)">1800</text>
<text x="693.10" y="576.52" font-size="16" text-anchor="middle" dominant-baseline="central" transform="rotate(-45 693.10 576.52)">1700</text>
<text x="716.34" y="576.52" font-size="16" text-anchor="middle" dominant-baseline="central" transform="rotate(-45 716.34 576.52)">1600</text>
<text x="739.57" y="576.52" font-size="16" text-anchor="middle" dominant-baseline="central" transform="rotate(-45 739.57 576.52)">1500</text>
<text x="762.81" y="576.52" font-size="16" text-anchor="middle" dominant-baseline="central" transform="rotate(-45 762.81 576.52)">1400</text>
<text x="786.04" y="576.52" font-size="16" text-anchor="middle" dominant-baseline="central" transform="rotate(-45 786.04 576.52)">1300</text>
<text x="809.28" y="576.52" font-size="16" text-anchor="middle" dominant-baseline="central" transform="rotate(-45 809.28 576.52)">1200</text>
<text x="832.51" y="576.31" font-size="16" text-anchor="middle" dominant-baseline="central" transform="rotate(-45 832.51 576.31)">1100</text>
<text x="855.75" y="576.52" font-size="16" text-anchor="middle" dominant-baseline="central" transform="rotate(-45 855.75 576.52)">1000</text>
<text x="878.98" y="573.69" font-size="16" text-anchor="middle" dominant-baseline="central" transform="rotate(-45 878.98 573.69)">900</text>
<text x="902.22" y="573.69" font-size="16" text-anchor="middle" dominant-baseline="central" transform="rotate(-45 902.22 573.69)">800</text>
<text x="925.45" y="573.69" font-size="16" text-anchor="middle" dominant-baseline="central" transform="rotate(-45 925.45 573.69)">700</text>
<text x="948.69" y="573.69" font-size="16" text-anchor="middle" dominant-baseline="central" transform="rotate(-45 948.69 573.69)">600</text>
<text x="971.92" y="573.69" font-size="16" text-anchor="middle" dominant-baseline="central" transform="rotate(-45 971.92 573.69)">500</text>
<text x="995.16" y="573.69" font-size="16" text-anchor="middle" dominant-baseline="central" transform="rotate(-45 995.16 573.69)">400</text>
<text x="1018.39" y="573.69" font-size="16" text-anchor="middle" dominant-baseline="central" transform="rotate(-45 1018.39 573.69)">300</text>
<text x="1041.63" y="573.69" font-size="16" text-anchor="middle" dominant-baseline="central" transform="rotate(-45 1041.63 573.69)">200</text>
<text x="1064.87" y="573.69" font-size="16" text-anchor="middle" dominant-baseline="central" transform="rotate(-45 1064.87 573.69)">100</text>
<text x="1088.10" y="568.03" font-size="16" text-anchor="middle" dominant-baseline="central" transform="rotate(-45 1088.10 568.03)">0</text>
<text x="845.40" y="616.13" font-size="24" text-anchor="middle">Inference MACs (M)</text>
<rect x="612.70" y="414.55" width="232.72" height="126.55" rx="4" ry="4" fill="#fff" fill-opacity="0.8" stroke="#cccccc" stroke-width="1"/>
<line x1="621.70" y1="430.25" x2="663.40" y2="430.25" stroke="#0000ff" stroke-width="4" stroke-linecap="square"/>
<text x="681.00" y="437.45" font-size="21.3">UGS (Ours)</text>
<line x1="621.70" y1="460.30" x2="663.40" y2="460.30" stroke="#ff8c0f" stroke-width="4" stroke-linecap="square"/>
<text x="681.00" y="467.50" font-size="21.3">Random Pruning</text>
<line x1="621.50" y1="490.35" x2="665.60" y2="490.35" stroke="#000" stroke-width="4" stroke-dasharray="14.7 6.7"/>
<text x="681.00" y="497.55" font-size="21.3">Baseline (2015M)</text>
<polygon points="642.60,514.80 644.35,520.19 650.02,520.19 645.43,523.52 647.18,528.91 642.60,525.58 638.02,528.91 639.77,523.52 635.18,520.19 640.85,520.19" fill="#ff0000" stroke="#ff0000" stroke-width="0.8" stroke-linejoin="miter"/>
<text x="681.00" y="527.60" font-size="21.3">GLT (1615M)</text>
<clipPath id="c12"><rect x="1138.4" y="331.3" width="489.0999999999999" height="220.90000000000003"/></clipPath>
<path d="M1169.50 552.20V331.30M1199.50 552.20V331.30M1230.50 552.20V331.30M1260.50 552.20V331.30M1291.50 552.20V331.30M1321.50 552.20V331.30M1352.50 552.20V331.30M1383.50 552.20V331.30M1413.50 552.20V331.30M1444.50 552.20V331.30M1474.50 552.20V331.30M1505.50 552.20V331.30M1535.50 552.20V331.30M1566.50 552.20V331.30M1596.50 552.20V331.30M1627.50 552.20V331.30M1138.40 552.50H1627.50M1138.40 515.50H1627.50M1138.40 478.50H1627.50M1138.40 441.50H1627.50M1138.40 404.50H1627.50M1138.40 368.50H1627.50M1138.40 331.50H1627.50" stroke="#a6a6a6" stroke-width="1" stroke-dasharray="3.7 1.9" fill="none" clip-path="url(#c12)"/>
<g clip-path="url(#c12)">
<line x1="1126.74" y1="365.36" x2="1647.50" y2="365.36" stroke="#000" stroke-width="4" stroke-dasharray="14.8 6.4"/>
<polyline points="1139.90,365.36 1237.26,343.27 1315.14,343.27 1377.45,336.82 1427.29,336.82 1467.17,338.66 1499.07,343.27 1524.59,349.71 1545.00,338.66 1561.34,340.50 1574.40,360.75 1584.86,363.51 1593.22,361.67 1599.91,369.96 1605.26,373.64 1609.54,404.93 1612.97,389.29 1615.71,404.93 1617.90,398.49 1619.65,404.93 1621.06,412.30" fill="none" stroke="#0000ff" stroke-width="4.0" stroke-linejoin="round" stroke-linecap="square"/>
<polyline points="1139.90,365.36 1237.26,370.88 1315.14,389.29 1377.45,361.67 1427.29,361.67 1467.17,365.36 1499.07,369.96 1524.59,363.51 1545.00,392.05 1561.34,379.16 1574.40,384.68 1584.86,374.56 1593.22,406.77 1599.91,386.53 1605.26,406.77 1609.54,426.10 1612.97,433.47 1615.71,427.94 1617.90,433.47 1619.65,427.94 1621.06,529.19" fill="none" stroke="#ff8c0f" stroke-width="4.0" stroke-linejoin="round" stroke-linecap="square"/>
</g>
<polygon points="1593.22,353.87 1594.97,359.26 1600.64,359.26 1596.05,362.59 1597.80,367.98 1593.22,364.65 1588.63,367.98 1590.39,362.59 1585.80,359.26 1591.47,359.26" fill="#ff0000" stroke="#ff0000" stroke-width="0.8" stroke-linejoin="miter"/>
<rect x="1138.50" y="331.50" width="489.00" height="221.00" fill="none" stroke="#000" stroke-width="1.15"/>
<path d="M1169.50 552.50v4.1M1199.50 552.50v4.1M1230.50 552.50v4.1M1260.50 552.50v4.1M1291.50 552.50v4.1M1321.50 552.50v4.1M1352.50 552.50v4.1M1383.50 552.50v4.1M1413.50 552.50v4.1M1444.50 552.50v4.1M1474.50 552.50v4.1M1505.50 552.50v4.1M1535.50 552.50v4.1M1566.50 552.50v4.1M1596.50 552.50v4.1M1627.50 552.50v4.1M1138.50 552.50h-4.1M1138.50 515.50h-4.1M1138.50 478.50h-4.1M1138.50 441.50h-4.1M1138.50 404.50h-4.1M1138.50 368.50h-4.1M1138.50 331.50h-4.1" stroke="#000" stroke-width="1.15" fill="none"/>
<text x="0" y="8.5" font-size="26" text-anchor="end" transform="translate(1129.20 553.00) scale(1 1.085)">70</text>
<text x="0" y="8.5" font-size="26" text-anchor="end" transform="translate(1129.20 516.18) scale(1 1.085)">72</text>
<text x="0" y="8.5" font-size="26" text-anchor="end" transform="translate(1129.20 479.37) scale(1 1.085)">74</text>
<text x="0" y="8.5" font-size="26" text-anchor="end" transform="translate(1129.20 442.55) scale(1 1.085)">76</text>
<text x="0" y="8.5" font-size="26" text-anchor="end" transform="translate(1129.20 405.73) scale(1 1.085)">78</text>
<text x="0" y="8.5" font-size="26" text-anchor="end" transform="translate(1129.20 368.92) scale(1 1.085)">80</text>
<text x="0" y="8.5" font-size="26" text-anchor="end" transform="translate(1129.20 332.10) scale(1 1.085)">82</text>
<text x="1168.00" y="579.34" font-size="16" text-anchor="middle" dominant-baseline="central" transform="rotate(-45 1168.00 579.34)">15000</text>
<text x="1198.56" y="579.34" font-size="16" text-anchor="middle" dominant-baseline="central" transform="rotate(-45 1198.56 579.34)">14000</text>
<text x="1229.11" y="579.34" font-size="16" text-anchor="middle" dominant-baseline="central" transform="rotate(-45 1229.11 579.34)">13000</text>
<text x="1259.66" y="579.34" font-size="16" text-anchor="middle" dominant-baseline="central" transform="rotate(-45 1259.66 579.34)">12000</text>
<text x="1290.22" y="579.13" font-size="16" text-anchor="middle" dominant-baseline="central" transform="rotate(-45 1290.22 579.13)">11000</text>
<text x="1320.77" y="579.34" font-size="16" text-anchor="middle" dominant-baseline="central" transform="rotate(-45 1320.77 579.34)">10000</text>
<text x="1351.32" y="576.52" font-size="16" text-anchor="middle" dominant-baseline="central" transform="rotate(-45 1351.32 576.52)">9000</text>
<text x="1381.88" y="576.52" font-size="16" text-anchor="middle" dominant-baseline="central" transform="rotate(-45 1381.88 576.52)">8000</text>
<text x="1412.43" y="576.52" font-size="16" text-anchor="middle" dominant-baseline="central" transform="rotate(-45 1412.43 576.52)">7000</text>
<text x="1442.98" y="576.52" font-size="16" text-anchor="middle" dominant-baseline="central" transform="rotate(-45 1442.98 576.52)">6000</text>
<text x="1473.53" y="576.52" font-size="16" text-anchor="middle" dominant-baseline="central" transform="rotate(-45 1473.53 576.52)">5000</text>
<text x="1504.09" y="576.52" font-size="16" text-anchor="middle" dominant-baseline="central" transform="rotate(-45 1504.09 576.52)">4000</text>
<text x="1534.64" y="576.52" font-size="16" text-anchor="middle" dominant-baseline="central" transform="rotate(-45 1534.64 576.52)">3000</text>
<text x="1565.19" y="576.52" font-size="16" text-anchor="middle" dominant-baseline="central" transform="rotate(-45 1565.19 576.52)">2000</text>
<text x="1595.75" y="576.52" font-size="16" text-anchor="middle" dominant-baseline="central" transform="rotate(-45 1595.75 576.52)">1000</text>
<text x="1626.30" y="568.03" font-size="16" text-anchor="middle" dominant-baseline="central" transform="rotate(-45 1626.30 568.03)">0</text>
<text x="1382.95" y="621.78" font-size="24" text-anchor="middle">Inference MACs (M)</text>
<rect x="1149.60" y="414.55" width="243.38" height="126.55" rx="4" ry="4" fill="#fff" fill-opacity="0.8" stroke="#cccccc" stroke-width="1"/>
<line x1="1158.60" y1="430.25" x2="1200.30" y2="430.25" stroke="#0000ff" stroke-width="4" stroke-linecap="square"/>
<text x="1217.90" y="437.45" font-size="21.3">UGS (Ours)</text>
<line x1="1158.60" y1="460.30" x2="1200.30" y2="460.30" stroke="#ff8c0f" stroke-width="4" stroke-linecap="square"/>
<text x="1217.90" y="467.50" font-size="21.3">Random Pruning</text>
<line x1="1158.40" y1="490.35" x2="1202.50" y2="490.35" stroke="#000" stroke-width="4" stroke-dasharray="14.7 6.7"/>
<text x="1217.90" y="497.55" font-size="21.3">Baseline (15959M)</text>
<polygon points="1179.50,514.80 1181.25,520.19 1186.92,520.19 1182.33,523.52 1184.08,528.91 1179.50,525.58 1174.92,528.91 1176.67,523.52 1172.08,520.19 1177.75,520.19" fill="#ff0000" stroke="#ff0000" stroke-width="0.8" stroke-linejoin="miter"/>
<text x="1217.90" y="527.60" font-size="21.3">GLT (1122M)</text>
<clipPath id="c20"><rect x="63.4" y="635.5" width="488.9" height="220.79999999999995"/></clipPath>
<path d="M78.50 856.30V635.50M113.50 856.30V635.50M148.50 856.30V635.50M180.50 856.30V635.50M211.50 856.30V635.50M240.50 856.30V635.50M268.50 856.30V635.50M294.50 856.30V635.50M319.50 856.30V635.50M343.50 856.30V635.50M366.50 856.30V635.50M387.50 856.30V635.50M408.50 856.30V635.50M427.50 856.30V635.50M446.50 856.30V635.50M463.50 856.30V635.50M480.50 856.30V635.50M496.50 856.30V635.50M511.50 856.30V635.50M525.50 856.30V635.50M539.50 856.30V635.50M63.40 856.50H552.30M63.40 816.50H552.30M63.40 775.50H552.30M63.40 735.50H552.30M63.40 695.50H552.30M63.40 655.50H552.30" stroke="#a6a6a6" stroke-width="1" stroke-dasharray="3.7 1.9" fill="none" clip-path="url(#c20)"/>
<g clip-path="url(#c20)">
<line x1="63.40" y1="652.35" x2="572.30" y2="652.35" stroke="#000" stroke-width="4" stroke-dasharray="14.8 6.4"/>
<polyline points="78.00,652.35 113.94,645.92 148.08,651.15 180.50,652.35 211.33,652.35 240.59,647.53 268.41,647.53 294.86,653.96 319.94,647.53 343.81,648.73 366.45,650.34 387.94,653.96 408.35,651.55 427.83,651.55 446.23,653.96 463.77,653.16 480.45,654.37 496.26,653.16 511.28,659.60 525.51,661.20 539.10,661.20" fill="none" stroke="#0000ff" stroke-width="4.0" stroke-linejoin="round" stroke-linecap="square"/>
<polyline points="78.00,652.35 113.94,653.16 148.08,653.16 180.50,654.37 211.33,657.18 240.59,658.79 268.41,657.99 294.86,662.01 319.94,662.01 343.81,659.60 366.45,667.64 387.94,673.27 408.35,671.66 427.83,689.36 446.23,720.34 463.77,743.67 480.45,771.83 496.26,759.36 511.28,791.94 525.51,820.90 539.10,845.04" fill="none" stroke="#ff8c0f" stroke-width="4.0" stroke-linejoin="round" stroke-linecap="square"/>
<polyline points="78.00,652.35 113.94,653.16 148.08,653.16 180.50,653.16 211.33,653.96 240.59,657.18 268.41,657.18 294.86,655.17 319.94,653.96 343.81,655.17 366.45,659.60 387.94,664.02 408.35,660.40 427.83,667.64 446.23,660.40 463.77,665.63 480.45,657.99 496.26,665.63 511.28,666.43 525.51,665.63 539.10,663.62" fill="none" stroke="#228b22" stroke-width="4.0" stroke-linejoin="round" stroke-linecap="square"/>
</g>
<polygon points="427.83,643.75 429.58,649.14 435.25,649.14 430.67,652.47 432.42,657.86 427.83,654.53 423.25,657.86 425.00,652.47 420.41,649.14 426.08,649.14" fill="#ff0000" stroke="#ff0000" stroke-width="0.8" stroke-linejoin="miter"/>
<rect x="63.50" y="635.50" width="489.00" height="221.00" fill="none" stroke="#000" stroke-width="1.15"/>
<path d="M78.50 856.50v4.1M113.50 856.50v4.1M148.50 856.50v4.1M180.50 856.50v4.1M211.50 856.50v4.1M240.50 856.50v4.1M268.50 856.50v4.1M294.50 856.50v4.1M319.50 856.50v4.1M343.50 856.50v4.1M366.50 856.50v4.1M387.50 856.50v4.1M408.50 856.50v4.1M427.50 856.50v4.1M446.50 856.50v4.1M463.50 856.50v4.1M480.50 856.50v4.1M496.50 856.50v4.1M511.50 856.50v4.1M525.50 856.50v4.1M539.50 856.50v4.1M63.50 856.50h-4.1M63.50 816.50h-4.1M63.50 775.50h-4.1M63.50 735.50h-4.1M63.50 695.50h-4.1M63.50 655.50h-4.1" stroke="#000" stroke-width="1.15" fill="none"/>
<text x="0" y="8.5" font-size="26" text-anchor="end" transform="translate(54.20 857.10) scale(1 1.085)">20</text>
<text x="0" y="8.5" font-size="26" text-anchor="end" transform="translate(54.20 816.87) scale(1 1.085)">30</text>
<text x="0" y="8.5" font-size="26" text-anchor="end" transform="translate(54.20 776.65) scale(1 1.085)">40</text>
<text x="0" y="8.5" font-size="26" text-anchor="end" transform="translate(54.20 736.42) scale(1 1.085)">50</text>
<text x="0" y="8.5" font-size="26" text-anchor="end" transform="translate(54.20 696.20) scale(1 1.085)">60</text>
<text x="0" y="8.5" font-size="26" text-anchor="end" transform="translate(54.20 655.97) scale(1 1.085)">70</text>
<text x="76.80" y="879.20" font-size="16" text-anchor="middle" dominant-baseline="central" transform="rotate(-45 76.80 879.20)">0.00</text>
<text x="112.74" y="879.20" font-size="16" text-anchor="middle" dominant-baseline="central" transform="rotate(-45 112.74 879.20)">5.00</text>
<text x="146.88" y="879.20" font-size="16" text-anchor="middle" dominant-baseline="central" transform="rotate(-45 146.88 879.20)">9.75</text>
<text x="179.30" y="882.03" font-size="16" text-anchor="middle" dominant-baseline="central" transform="rotate(-45 179.30 882.03)">14.26</text>
<text x="210.13" y="882.03" font-size="16" text-anchor="middle" dominant-baseline="central" transform="rotate(-45 210.13 882.03)">18.55</text>
<text x="239.39" y="882.03" font-size="16" text-anchor="middle" dominant-baseline="central" transform="rotate(-45 239.39 882.03)">22.62</text>
<text x="267.21" y="882.03" font-size="16" text-anchor="middle" dominant-baseline="central" transform="rotate(-45 267.21 882.03)">26.49</text>
<text x="293.66" y="882.03" font-size="16" text-anchor="middle" dominant-baseline="central" transform="rotate(-45 293.66 882.03)">30.17</text>
<text x="318.74" y="882.03" font-size="16" text-anchor="middle" dominant-baseline="central" transform="rotate(-45 318.74 882.03)">33.66</text>
<text x="342.61" y="882.03" font-size="16" text-anchor="middle" dominant-baseline="central" transform="rotate(-45 342.61 882.03)">36.98</text>
<text x="365.25" y="882.03" font-size="16" text-anchor="middle" dominant-baseline="central" transform="rotate(-45 365.25 882.03)">40.13</text>
<text x="386.74" y="882.03" font-size="16" text-anchor="middle" dominant-baseline="central" transform="rotate(-45 386.74 882.03)">43.12</text>
<text x="407.15" y="882.03" font-size="16" text-anchor="middle" dominant-baseline="central" transform="rotate(-45 407.15 882.03)">45.96</text>
<text x="426.63" y="882.03" font-size="16" text-anchor="middle" dominant-baseline="central" transform="rotate(-45 426.63 882.03)">48.67</text>
<text x="445.03" y="882.03" font-size="16" text-anchor="middle" dominant-baseline="central" transform="rotate(-45 445.03 882.03)">51.23</text>
<text x="462.57" y="882.03" font-size="16" text-anchor="middle" dominant-baseline="central" transform="rotate(-45 462.57 882.03)">53.67</text>
<text x="479.25" y="882.03" font-size="16" text-anchor="middle" dominant-baseline="central" transform="rotate(-45 479.25 882.03)">55.99</text>
<text x="495.06" y="882.03" font-size="16" text-anchor="middle" dominant-baseline="central" transform="rotate(-45 495.06 882.03)">58.19</text>
<text x="510.08" y="882.03" font-size="16" text-anchor="middle" dominant-baseline="central" transform="rotate(-45 510.08 882.03)">60.28</text>
<text x="524.31" y="882.03" font-size="16" text-anchor="middle" dominant-baseline="central" transform="rotate(-45 524.31 882.03)">62.26</text>
<text x="537.90" y="882.03" font-size="16" text-anchor="middle" dominant-baseline="central" transform="rotate(-45 537.90 882.03)">64.15</text>
<text x="307.85" y="923.06" font-size="24" text-anchor="middle">Graph Sparsity (%)</text>
<text x="17.6" y="745.90" font-size="24" text-anchor="middle" transform="rotate(-90 17.6 745.90)">Accuracy (Citeseer)</text>
<rect x="74.60" y="688.60" width="223.30" height="156.60" rx="4" ry="4" fill="#fff" fill-opacity="0.8" stroke="#cccccc" stroke-width="1"/>
<line x1="83.60" y1="704.30" x2="125.30" y2="704.30" stroke="#0000ff" stroke-width="4" stroke-linecap="square"/>
<text x="142.90" y="711.50" font-size="21.3">UGS (Ours)</text>
<line x1="83.60" y1="734.35" x2="125.30" y2="734.35" stroke="#ff8c0f" stroke-width="4" stroke-linecap="square"/>
<text x="142.90" y="741.55" font-size="21.3">Random Pruning</text>
<line x1="83.60" y1="764.40" x2="125.30" y2="764.40" stroke="#228b22" stroke-width="4" stroke-linecap="square"/>
<text x="142.90" y="771.60" font-size="21.3">ADMM</text>
<line x1="83.40" y1="794.45" x2="127.50" y2="794.45" stroke="#000" stroke-width="4" stroke-dasharray="14.7 6.7"/>
<text x="142.90" y="801.65" font-size="21.3">Baseline</text>
<polygon points="104.50,818.90 106.25,824.29 111.92,824.29 107.33,827.62 109.08,833.01 104.50,829.68 99.92,833.01 101.67,827.62 97.08,824.29 102.75,824.29" fill="#ff0000" stroke="#ff0000" stroke-width="0.8" stroke-linejoin="miter"/>
<text x="142.90" y="831.70" font-size="21.3">GLT</text>
<clipPath id="c21"><rect x="601.5" y="635.5" width="487.79999999999995" height="220.79999999999995"/></clipPath>
<path d="M615.50 856.30V635.50M651.50 856.30V635.50M685.50 856.30V635.50M718.50 856.30V635.50M748.50 856.30V635.50M778.50 856.30V635.50M805.50 856.30V635.50M832.50 856.30V635.50M857.50 856.30V635.50M881.50 856.30V635.50M903.50 856.30V635.50M925.50 856.30V635.50M945.50 856.30V635.50M965.50 856.30V635.50M983.50 856.30V635.50M1001.50 856.30V635.50M1017.50 856.30V635.50M1033.50 856.30V635.50M1048.50 856.30V635.50M1063.50 856.30V635.50M1076.50 856.30V635.50M601.50 856.50H1089.30M601.50 806.50H1089.30M601.50 755.50H1089.30M601.50 705.50H1089.30M601.50 655.50H1089.30" stroke="#a6a6a6" stroke-width="1" stroke-dasharray="3.7 1.9" fill="none" clip-path="url(#c21)"/>
<g clip-path="url(#c21)">
<line x1="601.50" y1="672.63" x2="1109.30" y2="672.63" stroke="#000" stroke-width="4" stroke-dasharray="14.8 6.4"/>
<polyline points="615.60,672.63 651.53,672.63 685.67,653.06 718.08,659.09 748.91,654.07 778.15,673.64 805.96,678.15 832.41,656.58 857.49,670.63 881.35,645.54 903.99,658.58 925.47,661.59 945.88,669.62 965.36,671.63 983.75,673.64 1001.29,673.64 1017.96,668.62 1033.77,660.59 1048.79,672.63 1063.02,673.64 1076.60,681.17" fill="none" stroke="#0000ff" stroke-width="4.0" stroke-linejoin="round" stroke-linecap="square"/>
<polyline points="615.60,672.13 651.53,682.17 685.67,677.15 718.08,678.15 748.91,668.62 778.15,677.15 805.96,671.63 832.41,702.24 857.49,697.73 881.35,678.66 903.99,701.24 925.47,708.77 945.88,706.76 965.36,762.96 983.75,785.04 1001.29,759.95 1017.96,781.53 1033.77,783.03 1048.79,747.41 1063.02,819.17 1076.60,777.01" fill="none" stroke="#ff8c0f" stroke-width="4.0" stroke-linejoin="round" stroke-linecap="square"/>
</g>
<polygon points="1033.77,664.83 1035.52,670.22 1041.19,670.22 1036.60,673.56 1038.35,678.94 1033.77,675.61 1029.19,678.94 1030.94,673.56 1026.35,670.22 1032.02,670.22" fill="#ff0000" stroke="#ff0000" stroke-width="0.8" stroke-linejoin="miter"/>
<rect x="601.50" y="635.50" width="488.00" height="221.00" fill="none" stroke="#000" stroke-width="1.15"/>
<path d="M615.50 856.50v4.1M651.50 856.50v4.1M685.50 856.50v4.1M718.50 856.50v4.1M748.50 856.50v4.1M778.50 856.50v4.1M805.50 856.50v4.1M832.50 856.50v4.1M857.50 856.50v4.1M881.50 856.50v4.1M903.50 856.50v4.1M925.50 856.50v4.1M945.50 856.50v4.1M965.50 856.50v4.1M983.50 856.50v4.1M1001.50 856.50v4.1M1017.50 856.50v4.1M1033.50 856.50v4.1M1048.50 856.50v4.1M1063.50 856.50v4.1M1076.50 856.50v4.1M601.50 856.50h-4.1M601.50 806.50h-4.1M601.50 755.50h-4.1M601.50 705.50h-4.1M601.50 655.50h-4.1" stroke="#000" stroke-width="1.15" fill="none"/>
<text x="0" y="8.5" font-size="26" text-anchor="end" transform="translate(592.30 857.10) scale(1 1.085)">50</text>
<text x="0" y="8.5" font-size="26" text-anchor="end" transform="translate(592.30 806.92) scale(1 1.085)">55</text>
<text x="0" y="8.5" font-size="26" text-anchor="end" transform="translate(592.30 756.74) scale(1 1.085)">60</text>
<text x="0" y="8.5" font-size="26" text-anchor="end" transform="translate(592.30 706.55) scale(1 1.085)">65</text>
<text x="0" y="8.5" font-size="26" text-anchor="end" transform="translate(592.30 656.37) scale(1 1.085)">70</text>
<text x="614.40" y="879.20" font-size="16" text-anchor="middle" dominant-baseline="central" transform="rotate(-45 614.40 879.20)">0.00</text>
<text x="650.33" y="879.20" font-size="16" text-anchor="middle" dominant-baseline="central" transform="rotate(-45 650.33 879.20)">5.00</text>
<text x="684.47" y="879.20" font-size="16" text-anchor="middle" dominant-baseline="central" transform="rotate(-45 684.47 879.20)">9.75</text>
<text x="716.88" y="882.03" font-size="16" text-anchor="middle" dominant-baseline="central" transform="rotate(-45 716.88 882.03)">14.26</text>
<text x="747.71" y="882.03" font-size="16" text-anchor="middle" dominant-baseline="central" transform="rotate(-45 747.71 882.03)">18.55</text>
<text x="776.95" y="882.03" font-size="16" text-anchor="middle" dominant-baseline="central" transform="rotate(-45 776.95 882.03)">22.62</text>
<text x="804.76" y="882.03" font-size="16" text-anchor="middle" dominant-baseline="central" transform="rotate(-45 804.76 882.03)">26.49</text>
<text x="831.21" y="882.03" font-size="16" text-anchor="middle" dominant-baseline="central" transform="rotate(-45 831.21 882.03)">30.17</text>
<text x="856.29" y="882.03" font-size="16" text-anchor="middle" dominant-baseline="central" transform="rotate(-45 856.29 882.03)">33.66</text>
<text x="880.15" y="882.03" font-size="16" text-anchor="middle" dominant-baseline="central" transform="rotate(-45 880.15 882.03)">36.98</text>
<text x="902.79" y="882.03" font-size="16" text-anchor="middle" dominant-baseline="central" transform="rotate(-45 902.79 882.03)">40.13</text>
<text x="924.27" y="882.03" font-size="16" text-anchor="middle" dominant-baseline="central" transform="rotate(-45 924.27 882.03)">43.12</text>
<text x="944.68" y="882.03" font-size="16" text-anchor="middle" dominant-baseline="central" transform="rotate(-45 944.68 882.03)">45.96</text>
<text x="964.16" y="882.03" font-size="16" text-anchor="middle" dominant-baseline="central" transform="rotate(-45 964.16 882.03)">48.67</text>
<text x="982.55" y="882.03" font-size="16" text-anchor="middle" dominant-baseline="central" transform="rotate(-45 982.55 882.03)">51.23</text>
<text x="1000.09" y="882.03" font-size="16" text-anchor="middle" dominant-baseline="central" transform="rotate(-45 1000.09 882.03)">53.67</text>
<text x="1016.76" y="882.03" font-size="16" text-anchor="middle" dominant-baseline="central" transform="rotate(-45 1016.76 882.03)">55.99</text>
<text x="1032.57" y="882.03" font-size="16" text-anchor="middle" dominant-baseline="central" transform="rotate(-45 1032.57 882.03)">58.19</text>
<text x="1047.59" y="882.03" font-size="16" text-anchor="middle" dominant-baseline="central" transform="rotate(-45 1047.59 882.03)">60.28</text>
<text x="1061.82" y="882.03" font-size="16" text-anchor="middle" dominant-baseline="central" transform="rotate(-45 1061.82 882.03)">62.26</text>
<text x="1075.40" y="882.03" font-size="16" text-anchor="middle" dominant-baseline="central" transform="rotate(-45 1075.40 882.03)">64.15</text>
<text x="845.40" y="923.06" font-size="24" text-anchor="middle">Graph Sparsity (%)</text>
<rect x="612.70" y="718.65" width="223.30" height="126.55" rx="4" ry="4" fill="#fff" fill-opacity="0.8" stroke="#cccccc" stroke-width="1"/>
<line x1="621.70" y1="734.35" x2="663.40" y2="734.35" stroke="#0000ff" stroke-width="4" stroke-linecap="square"/>
<text x="681.00" y="741.55" font-size="21.3">UGS (Ours)</text>
<line x1="621.70" y1="764.40" x2="663.40" y2="764.40" stroke="#ff8c0f" stroke-width="4" stroke-linecap="square"/>
<text x="681.00" y="771.60" font-size="21.3">Random Pruning</text>
<line x1="621.50" y1="794.45" x2="665.60" y2="794.45" stroke="#000" stroke-width="4" stroke-dasharray="14.7 6.7"/>
<text x="681.00" y="801.65" font-size="21.3">Baseline</text>
<polygon points="642.60,818.90 644.35,824.29 650.02,824.29 645.43,827.62 647.18,833.01 642.60,829.68 638.02,833.01 639.77,827.62 635.18,824.29 640.85,824.29" fill="#ff0000" stroke="#ff0000" stroke-width="0.8" stroke-linejoin="miter"/>
<text x="681.00" y="831.70" font-size="21.3">GLT</text>
<clipPath id="c22"><rect x="1138.4" y="635.5" width="489.0999999999999" height="220.79999999999995"/></clipPath>
<path d="M1152.50 856.30V635.50M1188.50 856.30V635.50M1222.50 856.30V635.50M1255.50 856.30V635.50M1286.50 856.30V635.50M1315.50 856.30V635.50M1343.50 856.30V635.50M1369.50 856.30V635.50M1394.50 856.30V635.50M1418.50 856.30V635.50M1441.50 856.30V635.50M1462.50 856.30V635.50M1483.50 856.30V635.50M1502.50 856.30V635.50M1521.50 856.30V635.50M1538.50 856.30V635.50M1555.50 856.30V635.50M1571.50 856.30V635.50M1586.50 856.30V635.50M1600.50 856.30V635.50M1614.50 856.30V635.50M1138.40 856.50H1627.50M1138.40 824.50H1627.50M1138.40 793.50H1627.50M1138.40 761.50H1627.50M1138.40 730.50H1627.50M1138.40 698.50H1627.50M1138.40 667.50H1627.50M1138.40 635.50H1627.50" stroke="#a6a6a6" stroke-width="1" stroke-dasharray="3.7 1.9" fill="none" clip-path="url(#c22)"/>
<g clip-path="url(#c22)">
<line x1="1138.40" y1="667.83" x2="1647.50" y2="667.83" stroke="#000" stroke-width="4" stroke-dasharray="14.8 6.4"/>
<polyline points="1152.80,667.83 1188.75,662.31 1222.90,648.12 1255.32,656.79 1286.16,675.72 1315.42,652.85 1343.25,654.43 1369.70,656.79 1394.80,656.79 1418.66,659.16 1441.31,668.62 1462.81,652.85 1483.22,662.31 1502.71,656.79 1521.11,656.79 1538.66,676.51 1555.33,674.93 1571.15,679.66 1586.18,670.20 1600.41,670.20 1614.00,670.20" fill="none" stroke="#0000ff" stroke-width="4.0" stroke-linejoin="round" stroke-linecap="square"/>
<polyline points="1152.80,667.04 1188.75,671.77 1222.90,664.68 1255.32,669.41 1286.16,672.56 1315.42,663.89 1343.25,670.20 1369.70,667.83 1394.80,678.08 1418.66,672.56 1441.31,688.33 1462.81,668.62 1483.22,665.47 1502.71,674.93 1521.11,681.24 1538.66,676.51 1555.33,676.51 1571.15,685.97 1586.18,687.55 1600.41,744.32 1614.00,828.70" fill="none" stroke="#ff8c0f" stroke-width="4.0" stroke-linejoin="round" stroke-linecap="square"/>
</g>
<polygon points="1521.11,648.99 1522.86,654.38 1528.53,654.38 1523.95,657.71 1525.70,663.10 1521.11,659.77 1516.53,663.10 1518.28,657.71 1513.69,654.38 1519.36,654.38" fill="#ff0000" stroke="#ff0000" stroke-width="0.8" stroke-linejoin="miter"/>
<rect x="1138.50" y="635.50" width="489.00" height="221.00" fill="none" stroke="#000" stroke-width="1.15"/>
<path d="M1152.50 856.50v4.1M1188.50 856.50v4.1M1222.50 856.50v4.1M1255.50 856.50v4.1M1286.50 856.50v4.1M1315.50 856.50v4.1M1343.50 856.50v4.1M1369.50 856.50v4.1M1394.50 856.50v4.1M1418.50 856.50v4.1M1441.50 856.50v4.1M1462.50 856.50v4.1M1483.50 856.50v4.1M1502.50 856.50v4.1M1521.50 856.50v4.1M1538.50 856.50v4.1M1555.50 856.50v4.1M1571.50 856.50v4.1M1586.50 856.50v4.1M1600.50 856.50v4.1M1614.50 856.50v4.1M1138.50 856.50h-4.1M1138.50 824.50h-4.1M1138.50 793.50h-4.1M1138.50 761.50h-4.1M1138.50 730.50h-4.1M1138.50 698.50h-4.1M1138.50 667.50h-4.1M1138.50 635.50h-4.1" stroke="#000" stroke-width="1.15" fill="none"/>
<text x="0" y="8.5" font-size="26" text-anchor="end" transform="translate(1129.20 857.10) scale(1 1.085)">58</text>
<text x="0" y="8.5" font-size="26" text-anchor="end" transform="translate(1129.20 825.56) scale(1 1.085)">60</text>
<text x="0" y="8.5" font-size="26" text-anchor="end" transform="translate(1129.20 794.01) scale(1 1.085)">62</text>
<text x="0" y="8.5" font-size="26" text-anchor="end" transform="translate(1129.20 762.47) scale(1 1.085)">64</text>
<text x="0" y="8.5" font-size="26" text-anchor="end" transform="translate(1129.20 730.93) scale(1 1.085)">66</text>
<text x="0" y="8.5" font-size="26" text-anchor="end" transform="translate(1129.20 699.39) scale(1 1.085)">68</text>
<text x="0" y="8.5" font-size="26" text-anchor="end" transform="translate(1129.20 667.84) scale(1 1.085)">70</text>
<text x="0" y="8.5" font-size="26" text-anchor="end" transform="translate(1129.20 636.30) scale(1 1.085)">72</text>
<text x="1151.60" y="879.20" font-size="16" text-anchor="middle" dominant-baseline="central" transform="rotate(-45 1151.60 879.20)">0.00</text>
<text x="1187.55" y="879.20" font-size="16" text-anchor="middle" dominant-baseline="central" transform="rotate(-45 1187.55 879.20)">5.00</text>
<text x="1221.70" y="879.20" font-size="16" text-anchor="middle" dominant-baseline="central" transform="rotate(-45 1221.70 879.20)">9.75</text>
<text x="1254.12" y="882.03" font-size="16" text-anchor="middle" dominant-baseline="central" transform="rotate(-45 1254.12 882.03)">14.26</text>
<text x="1284.96" y="882.03" font-size="16" text-anchor="middle" dominant-baseline="central" transform="rotate(-45 1284.96 882.03)">18.55</text>
<text x="1314.22" y="882.03" font-size="16" text-anchor="middle" dominant-baseline="central" transform="rotate(-45 1314.22 882.03)">22.62</text>
<text x="1342.05" y="882.03" font-size="16" text-anchor="middle" dominant-baseline="central" transform="rotate(-45 1342.05 882.03)">26.49</text>
<text x="1368.50" y="882.03" font-size="16" text-anchor="middle" dominant-baseline="central" transform="rotate(-45 1368.50 882.03)">30.17</text>
<text x="1393.60" y="882.03" font-size="16" text-anchor="middle" dominant-baseline="central" transform="rotate(-45 1393.60 882.03)">33.66</text>
<text x="1417.46" y="882.03" font-size="16" text-anchor="middle" dominant-baseline="central" transform="rotate(-45 1417.46 882.03)">36.98</text>
<text x="1440.11" y="882.03" font-size="16" text-anchor="middle" dominant-baseline="central" transform="rotate(-45 1440.11 882.03)">40.13</text>
<text x="1461.61" y="882.03" font-size="16" text-anchor="middle" dominant-baseline="central" transform="rotate(-45 1461.61 882.03)">43.12</text>
<text x="1482.02" y="882.03" font-size="16" text-anchor="middle" dominant-baseline="central" transform="rotate(-45 1482.02 882.03)">45.96</text>
<text x="1501.51" y="882.03" font-size="16" text-anchor="middle" dominant-baseline="central" transform="rotate(-45 1501.51 882.03)">48.67</text>
<text x="1519.91" y="882.03" font-size="16" text-anchor="middle" dominant-baseline="central" transform="rotate(-45 1519.91 882.03)">51.23</text>
<text x="1537.46" y="882.03" font-size="16" text-anchor="middle" dominant-baseline="central" transform="rotate(-45 1537.46 882.03)">53.67</text>
<text x="1554.13" y="882.03" font-size="16" text-anchor="middle" dominant-baseline="central" transform="rotate(-45 1554.13 882.03)">55.99</text>
<text x="1569.95" y="882.03" font-size="16" text-anchor="middle" dominant-baseline="central" transform="rotate(-45 1569.95 882.03)">58.19</text>
<text x="1584.98" y="882.03" font-size="16" text-anchor="middle" dominant-baseline="central" transform="rotate(-45 1584.98 882.03)">60.28</text>
<text x="1599.21" y="882.03" font-size="16" text-anchor="middle" dominant-baseline="central" transform="rotate(-45 1599.21 882.03)">62.26</text>
<text x="1612.80" y="882.03" font-size="16" text-anchor="middle" dominant-baseline="central" transform="rotate(-45 1612.80 882.03)">64.15</text>
<text x="1382.95" y="923.06" font-size="24" text-anchor="middle">Graph Sparsity (%)</text>
<rect x="1149.60" y="718.65" width="223.30" height="126.55" rx="4" ry="4" fill="#fff" fill-opacity="0.8" stroke="#cccccc" stroke-width="1"/>
<line x1="1158.60" y1="734.35" x2="1200.30" y2="734.35" stroke="#0000ff" stroke-width="4" stroke-linecap="square"/>
<text x="1217.90" y="741.55" font-size="21.3">UGS (Ours)</text>
<line x1="1158.60" y1="764.40" x2="1200.30" y2="764.40" stroke="#ff8c0f" stroke-width="4" stroke-linecap="square"/>
<text x="1217.90" y="771.60" font-size="21.3">Random Pruning</text>
<line x1="1158.40" y1="794.45" x2="1202.50" y2="794.45" stroke="#000" stroke-width="4" stroke-dasharray="14.7 6.7"/>
<text x="1217.90" y="801.65" font-size="21.3">Baseline</text>
<polygon points="1179.50,818.90 1181.25,824.29 1186.92,824.29 1182.33,827.62 1184.08,833.01 1179.50,829.68 1174.92,833.01 1176.67,827.62 1172.08,824.29 1177.75,824.29" fill="#ff0000" stroke="#ff0000" stroke-width="0.8" stroke-linejoin="miter"/>
<text x="1217.90" y="831.70" font-size="21.3">GLT</text>
<clipPath id="c30"><rect x="63.4" y="939.5" width="488.9" height="220.9000000000001"/></clipPath>
<path d="M90.50 1160.40V939.50M121.50 1160.40V939.50M152.50 1160.40V939.50M183.50 1160.40V939.50M213.50 1160.40V939.50M244.50 1160.40V939.50M275.50 1160.40V939.50M306.50 1160.40V939.50M336.50 1160.40V939.50M367.50 1160.40V939.50M398.50 1160.40V939.50M429.50 1160.40V939.50M459.50 1160.40V939.50M490.50 1160.40V939.50M521.50 1160.40V939.50M552.50 1160.40V939.50M63.40 1160.50H552.30M63.40 1120.50H552.30M63.40 1079.50H552.30M63.40 1039.50H552.30M63.40 999.50H552.30M63.40 959.50H552.30" stroke="#a6a6a6" stroke-width="1" stroke-dasharray="3.7 1.9" fill="none" clip-path="url(#c30)"/>
<g clip-path="url(#c30)">
<line x1="54.72" y1="956.36" x2="572.30" y2="956.36" stroke="#000" stroke-width="4" stroke-dasharray="14.8 6.4"/>
<polyline points="67.80,956.36 164.64,949.92 242.11,955.15 304.09,956.36 353.67,956.36 393.34,951.53 425.07,951.53 450.45,957.97 470.76,951.53 487.01,952.74 500.01,954.35 510.41,957.97 518.72,955.56 525.38,955.56 530.70,957.97 534.96,957.17 538.37,958.37 541.09,957.17 543.28,963.61 545.02,965.22 546.42,965.22" fill="none" stroke="#0000ff" stroke-width="4.0" stroke-linejoin="round" stroke-linecap="square"/>
<polyline points="67.80,956.36 164.64,957.17 242.11,957.17 304.09,958.37 353.67,961.19 393.34,962.80 425.07,962.00 450.45,966.02 470.76,966.02 487.01,963.61 500.01,971.66 510.41,977.29 518.72,975.68 525.38,993.39 530.70,1024.37 534.96,1047.72 538.37,1075.89 541.09,1063.41 543.28,1096.01 545.02,1124.99 546.42,1149.13" fill="none" stroke="#ff8c0f" stroke-width="4.0" stroke-linejoin="round" stroke-linecap="square"/>
<polyline points="67.80,956.36 164.64,957.17 242.11,957.17 304.09,957.17 353.67,957.97 393.34,961.19 425.07,961.19 450.45,959.18 470.76,957.97 487.01,959.18 500.01,963.61 510.41,968.03 518.72,964.41 525.38,971.66 530.70,964.41 534.96,969.64 538.37,962.00 541.09,969.64 543.28,970.45 545.02,969.64 546.42,967.63" fill="none" stroke="#228b22" stroke-width="4.0" stroke-linejoin="round" stroke-linecap="square"/>
</g>
<polygon points="525.38,947.76 527.13,953.15 532.80,953.15 528.21,956.48 529.96,961.87 525.38,958.54 520.79,961.87 522.55,956.48 517.96,953.15 523.63,953.15" fill="#ff0000" stroke="#ff0000" stroke-width="0.8" stroke-linejoin="miter"/>
<rect x="63.50" y="939.50" width="489.00" height="221.00" fill="none" stroke="#000" stroke-width="1.15"/>
<path d="M90.50 1160.50v4.1M121.50 1160.50v4.1M152.50 1160.50v4.1M183.50 1160.50v4.1M213.50 1160.50v4.1M244.50 1160.50v4.1M275.50 1160.50v4.1M306.50 1160.50v4.1M336.50 1160.50v4.1M367.50 1160.50v4.1M398.50 1160.50v4.1M429.50 1160.50v4.1M459.50 1160.50v4.1M490.50 1160.50v4.1M521.50 1160.50v4.1M552.50 1160.50v4.1M63.50 1160.50h-4.1M63.50 1120.50h-4.1M63.50 1079.50h-4.1M63.50 1039.50h-4.1M63.50 999.50h-4.1M63.50 959.50h-4.1" stroke="#000" stroke-width="1.15" fill="none"/>
<text x="0" y="8.5" font-size="26" text-anchor="end" transform="translate(54.20 1161.20) scale(1 1.085)">20</text>
<text x="0" y="8.5" font-size="26" text-anchor="end" transform="translate(54.20 1120.96) scale(1 1.085)">30</text>
<text x="0" y="8.5" font-size="26" text-anchor="end" transform="translate(54.20 1080.71) scale(1 1.085)">40</text>
<text x="0" y="8.5" font-size="26" text-anchor="end" transform="translate(54.20 1040.47) scale(1 1.085)">50</text>
<text x="0" y="8.5" font-size="26" text-anchor="end" transform="translate(54.20 1000.22) scale(1 1.085)">60</text>
<text x="0" y="8.5" font-size="26" text-anchor="end" transform="translate(54.20 959.98) scale(1 1.085)">70</text>
<text x="89.60" y="1184.72" font-size="16" text-anchor="middle" dominant-baseline="central" transform="rotate(-45 89.60 1184.72)">6000</text>
<text x="120.36" y="1184.72" font-size="16" text-anchor="middle" dominant-baseline="central" transform="rotate(-45 120.36 1184.72)">5600</text>
<text x="151.13" y="1184.72" font-size="16" text-anchor="middle" dominant-baseline="central" transform="rotate(-45 151.13 1184.72)">5200</text>
<text x="181.90" y="1184.72" font-size="16" text-anchor="middle" dominant-baseline="central" transform="rotate(-45 181.90 1184.72)">4800</text>
<text x="212.67" y="1184.72" font-size="16" text-anchor="middle" dominant-baseline="central" transform="rotate(-45 212.67 1184.72)">4400</text>
<text x="243.43" y="1184.72" font-size="16" text-anchor="middle" dominant-baseline="central" transform="rotate(-45 243.43 1184.72)">4000</text>
<text x="274.20" y="1184.72" font-size="16" text-anchor="middle" dominant-baseline="central" transform="rotate(-45 274.20 1184.72)">3600</text>
<text x="304.97" y="1184.72" font-size="16" text-anchor="middle" dominant-baseline="central" transform="rotate(-45 304.97 1184.72)">3200</text>
<text x="335.73" y="1184.72" font-size="16" text-anchor="middle" dominant-baseline="central" transform="rotate(-45 335.73 1184.72)">2800</text>
<text x="366.50" y="1184.72" font-size="16" text-anchor="middle" dominant-baseline="central" transform="rotate(-45 366.50 1184.72)">2400</text>
<text x="397.27" y="1184.72" font-size="16" text-anchor="middle" dominant-baseline="central" transform="rotate(-45 397.27 1184.72)">2000</text>
<text x="428.03" y="1184.72" font-size="16" text-anchor="middle" dominant-baseline="central" transform="rotate(-45 428.03 1184.72)">1600</text>
<text x="458.80" y="1184.72" font-size="16" text-anchor="middle" dominant-baseline="central" transform="rotate(-45 458.80 1184.72)">1200</text>
<text x="489.57" y="1181.89" font-size="16" text-anchor="middle" dominant-baseline="central" transform="rotate(-45 489.57 1181.89)">800</text>
<text x="520.33" y="1181.89" font-size="16" text-anchor="middle" dominant-baseline="central" transform="rotate(-45 520.33 1181.89)">400</text>
<text x="551.10" y="1176.23" font-size="16" text-anchor="middle" dominant-baseline="central" transform="rotate(-45 551.10 1176.23)">0</text>
<text x="307.85" y="1224.33" font-size="24" text-anchor="middle">Inference MACs (M)</text>
<text x="17.6" y="1049.95" font-size="24" text-anchor="middle" transform="rotate(-90 17.6 1049.95)">Accuracy (Citeseer)</text>
<rect x="74.60" y="992.70" width="232.72" height="156.60" rx="4" ry="4" fill="#fff" fill-opacity="0.8" stroke="#cccccc" stroke-width="1"/>
<line x1="83.60" y1="1008.40" x2="125.30" y2="1008.40" stroke="#0000ff" stroke-width="4" stroke-linecap="square"/>
<text x="142.90" y="1015.60" font-size="21.3">UGS (Ours)</text>
<line x1="83.60" y1="1038.45" x2="125.30" y2="1038.45" stroke="#ff8c0f" stroke-width="4" stroke-linecap="square"/>
<text x="142.90" y="1045.65" font-size="21.3">Random Pruning</text>
<line x1="83.60" y1="1068.50" x2="125.30" y2="1068.50" stroke="#228b22" stroke-width="4" stroke-linecap="square"/>
<text x="142.90" y="1075.70" font-size="21.3">ADMM</text>
<line x1="83.40" y1="1098.55" x2="127.50" y2="1098.55" stroke="#000" stroke-width="4" stroke-dasharray="14.7 6.7"/>
<text x="142.90" y="1105.75" font-size="21.3">Baseline (6299M)</text>
<polygon points="104.50,1123.00 106.25,1128.39 111.92,1128.39 107.33,1131.72 109.08,1137.11 104.50,1133.78 99.92,1137.11 101.67,1131.72 97.08,1128.39 102.75,1128.39" fill="#ff0000" stroke="#ff0000" stroke-width="0.8" stroke-linejoin="miter"/>
<text x="142.90" y="1135.80" font-size="21.3">GLT (350M)</text>
<clipPath id="c31"><rect x="601.5" y="939.5" width="487.79999999999995" height="220.9000000000001"/></clipPath>
<path d="M631.50 1160.40V939.50M662.50 1160.40V939.50M692.50 1160.40V939.50M723.50 1160.40V939.50M753.50 1160.40V939.50M784.50 1160.40V939.50M814.50 1160.40V939.50M845.50 1160.40V939.50M875.50 1160.40V939.50M906.50 1160.40V939.50M936.50 1160.40V939.50M967.50 1160.40V939.50M997.50 1160.40V939.50M1028.50 1160.40V939.50M1058.50 1160.40V939.50M1089.50 1160.40V939.50M601.50 1160.50H1089.30M601.50 1110.50H1089.30M601.50 1059.50H1089.30M601.50 1009.50H1089.30M601.50 959.50H1089.30" stroke="#a6a6a6" stroke-width="1" stroke-dasharray="3.7 1.9" fill="none" clip-path="url(#c31)"/>
<g clip-path="url(#c31)">
<line x1="594.15" y1="976.65" x2="1109.30" y2="976.65" stroke="#000" stroke-width="4" stroke-dasharray="14.8 6.4"/>
<polyline points="607.17,976.65 703.60,976.65 780.74,957.07 842.45,963.10 891.82,958.08 931.32,977.66 962.91,982.17 988.19,960.59 1008.41,974.64 1024.59,949.54 1037.53,962.59 1047.89,965.61 1056.17,973.64 1062.79,975.65 1068.10,977.66 1072.34,977.66 1075.73,972.63 1078.44,964.60 1080.61,976.65 1082.35,977.66 1083.74,985.19" fill="none" stroke="#0000ff" stroke-width="4.0" stroke-linejoin="round" stroke-linecap="square"/>
<polyline points="607.17,976.15 703.60,986.19 780.74,981.17 842.45,982.17 891.82,972.63 931.32,981.17 962.91,975.65 988.19,1006.27 1008.41,1001.75 1024.59,982.68 1037.53,1005.27 1047.89,1012.80 1056.17,1010.79 1062.79,1067.02 1068.10,1089.11 1072.34,1064.01 1075.73,1085.60 1078.44,1087.10 1080.61,1051.46 1082.35,1123.25 1083.74,1081.08" fill="none" stroke="#ff8c0f" stroke-width="4.0" stroke-linejoin="round" stroke-linecap="square"/>
</g>
<polygon points="1078.55,968.85 1080.30,974.24 1085.97,974.24 1081.38,977.57 1083.13,982.96 1078.55,979.63 1073.96,982.96 1075.72,977.57 1071.13,974.24 1076.80,974.24" fill="#ff0000" stroke="#ff0000" stroke-width="0.8" stroke-linejoin="miter"/>
<rect x="601.50" y="939.50" width="488.00" height="221.00" fill="none" stroke="#000" stroke-width="1.15"/>
<path d="M631.50 1160.50v4.1M662.50 1160.50v4.1M692.50 1160.50v4.1M723.50 1160.50v4.1M753.50 1160.50v4.1M784.50 1160.50v4.1M814.50 1160.50v4.1M845.50 1160.50v4.1M875.50 1160.50v4.1M906.50 1160.50v4.1M936.50 1160.50v4.1M967.50 1160.50v4.1M997.50 1160.50v4.1M1028.50 1160.50v4.1M1058.50 1160.50v4.1M1089.50 1160.50v4.1M601.50 1160.50h-4.1M601.50 1110.50h-4.1M601.50 1059.50h-4.1M601.50 1009.50h-4.1M601.50 959.50h-4.1" stroke="#000" stroke-width="1.15" fill="none"/>
<text x="0" y="8.5" font-size="26" text-anchor="end" transform="translate(592.30 1161.20) scale(1 1.085)">50</text>
<text x="0" y="8.5" font-size="26" text-anchor="end" transform="translate(592.30 1111.00) scale(1 1.085)">55</text>
<text x="0" y="8.5" font-size="26" text-anchor="end" transform="translate(592.30 1060.79) scale(1 1.085)">60</text>
<text x="0" y="8.5" font-size="26" text-anchor="end" transform="translate(592.30 1010.59) scale(1 1.085)">65</text>
<text x="0" y="8.5" font-size="26" text-anchor="end" transform="translate(592.30 960.38) scale(1 1.085)">70</text>
<text x="630.60" y="1184.72" font-size="16" text-anchor="middle" dominant-baseline="central" transform="rotate(-45 630.60 1184.72)">6000</text>
<text x="661.10" y="1184.72" font-size="16" text-anchor="middle" dominant-baseline="central" transform="rotate(-45 661.10 1184.72)">5600</text>
<text x="691.60" y="1184.72" font-size="16" text-anchor="middle" dominant-baseline="central" transform="rotate(-45 691.60 1184.72)">5200</text>
<text x="722.10" y="1184.72" font-size="16" text-anchor="middle" dominant-baseline="central" transform="rotate(-45 722.10 1184.72)">4800</text>
<text x="752.60" y="1184.72" font-size="16" text-anchor="middle" dominant-baseline="central" transform="rotate(-45 752.60 1184.72)">4400</text>
<text x="783.10" y="1184.72" font-size="16" text-anchor="middle" dominant-baseline="central" transform="rotate(-45 783.10 1184.72)">4000</text>
<text x="813.60" y="1184.72" font-size="16" text-anchor="middle" dominant-baseline="central" transform="rotate(-45 813.60 1184.72)">3600</text>
<text x="844.10" y="1184.72" font-size="16" text-anchor="middle" dominant-baseline="central" transform="rotate(-45 844.10 1184.72)">3200</text>
<text x="874.60" y="1184.72" font-size="16" text-anchor="middle" dominant-baseline="central" transform="rotate(-45 874.60 1184.72)">2800</text>
<text x="905.10" y="1184.72" font-size="16" text-anchor="middle" dominant-baseline="central" transform="rotate(-45 905.10 1184.72)">2400</text>
<text x="935.60" y="1184.72" font-size="16" text-anchor="middle" dominant-baseline="central" transform="rotate(-45 935.60 1184.72)">2000</text>
<text x="966.10" y="1184.72" font-size="16" text-anchor="middle" dominant-baseline="central" transform="rotate(-45 966.10 1184.72)">1600</text>
<text x="996.60" y="1184.72" font-size="16" text-anchor="middle" dominant-baseline="central" transform="rotate(-45 996.60 1184.72)">1200</text>
<text x="1027.10" y="1181.89" font-size="16" text-anchor="middle" dominant-baseline="central" transform="rotate(-45 1027.10 1181.89)">800</text>
<text x="1057.60" y="1181.89" font-size="16" text-anchor="middle" dominant-baseline="central" transform="rotate(-45 1057.60 1181.89)">400</text>
<text x="1088.10" y="1176.23" font-size="16" text-anchor="middle" dominant-baseline="central" transform="rotate(-45 1088.10 1176.23)">0</text>
<text x="845.40" y="1224.33" font-size="24" text-anchor="middle">Inference MACs (M)</text>
<rect x="612.70" y="1022.75" width="232.72" height="126.55" rx="4" ry="4" fill="#fff" fill-opacity="0.8" stroke="#cccccc" stroke-width="1"/>
<line x1="621.70" y1="1038.45" x2="663.40" y2="1038.45" stroke="#0000ff" stroke-width="4" stroke-linecap="square"/>
<text x="681.00" y="1045.65" font-size="21.3">UGS (Ours)</text>
<line x1="621.70" y1="1068.50" x2="663.40" y2="1068.50" stroke="#ff8c0f" stroke-width="4" stroke-linecap="square"/>
<text x="681.00" y="1075.70" font-size="21.3">Random Pruning</text>
<line x1="621.50" y1="1098.55" x2="665.60" y2="1098.55" stroke="#000" stroke-width="4" stroke-dasharray="14.7 6.7"/>
<text x="681.00" y="1105.75" font-size="21.3">Baseline (6323M)</text>
<polygon points="642.60,1123.00 644.35,1128.39 650.02,1128.39 645.43,1131.72 647.18,1137.11 642.60,1133.78 638.02,1137.11 639.77,1131.72 635.18,1128.39 640.85,1128.39" fill="#ff0000" stroke="#ff0000" stroke-width="0.8" stroke-linejoin="miter"/>
<text x="681.00" y="1135.80" font-size="21.3">GLT (141M)</text>
<clipPath id="c32"><rect x="1138.4" y="939.5" width="489.0999999999999" height="220.9000000000001"/></clipPath>
<path d="M1143.50 1160.40V939.50M1162.50 1160.40V939.50M1182.50 1160.40V939.50M1201.50 1160.40V939.50M1220.50 1160.40V939.50M1240.50 1160.40V939.50M1259.50 1160.40V939.50M1278.50 1160.40V939.50M1298.50 1160.40V939.50M1317.50 1160.40V939.50M1337.50 1160.40V939.50M1356.50 1160.40V939.50M1375.50 1160.40V939.50M1395.50 1160.40V939.50M1414.50 1160.40V939.50M1433.50 1160.40V939.50M1453.50 1160.40V939.50M1472.50 1160.40V939.50M1491.50 1160.40V939.50M1511.50 1160.40V939.50M1530.50 1160.40V939.50M1550.50 1160.40V939.50M1569.50 1160.40V939.50M1588.50 1160.40V939.50M1608.50 1160.40V939.50M1627.50 1160.40V939.50M1138.40 1160.50H1627.50M1138.40 1128.50H1627.50M1138.40 1097.50H1627.50M1138.40 1065.50H1627.50M1138.40 1034.50H1627.50M1138.40 1002.50H1627.50M1138.40 971.50H1627.50M1138.40 939.50H1627.50" stroke="#a6a6a6" stroke-width="1" stroke-dasharray="3.7 1.9" fill="none" clip-path="url(#c32)"/>
<g clip-path="url(#c32)">
<line x1="1127.42" y1="971.85" x2="1647.50" y2="971.85" stroke="#000" stroke-width="4" stroke-dasharray="14.8 6.4"/>
<polyline points="1140.56,971.85 1237.91,966.32 1315.78,952.12 1378.08,960.80 1427.92,979.74 1467.80,956.86 1499.69,958.43 1525.21,960.80 1545.63,960.80 1561.96,963.17 1575.02,972.63 1585.48,956.86 1593.84,966.32 1600.53,960.80 1605.88,960.80 1610.16,980.52 1613.59,978.95 1616.33,983.68 1618.52,974.21 1620.27,974.21 1621.67,974.21" fill="none" stroke="#0000ff" stroke-width="4.0" stroke-linejoin="round" stroke-linecap="square"/>
<polyline points="1140.56,971.06 1237.91,975.79 1315.78,968.69 1378.08,973.42 1427.92,976.58 1467.80,967.90 1499.69,974.21 1525.21,971.85 1545.63,982.10 1561.96,976.58 1575.02,992.36 1585.48,972.63 1593.84,969.48 1600.53,978.95 1605.88,985.26 1610.16,980.52 1613.59,980.52 1616.33,989.99 1618.52,991.57 1620.27,1048.37 1621.67,1132.79" fill="none" stroke="#ff8c0f" stroke-width="4.0" stroke-linejoin="round" stroke-linecap="square"/>
</g>
<polygon points="1605.88,953.00 1607.63,958.39 1613.30,958.39 1608.71,961.72 1610.46,967.11 1605.88,963.78 1601.30,967.11 1603.05,961.72 1598.46,958.39 1604.13,958.39" fill="#ff0000" stroke="#ff0000" stroke-width="0.8" stroke-linejoin="miter"/>
<rect x="1138.50" y="939.50" width="489.00" height="221.00" fill="none" stroke="#000" stroke-width="1.15"/>
<path d="M1143.50 1160.50v4.1M1162.50 1160.50v4.1M1182.50 1160.50v4.1M1201.50 1160.50v4.1M1220.50 1160.50v4.1M1240.50 1160.50v4.1M1259.50 1160.50v4.1M1278.50 1160.50v4.1M1298.50 1160.50v4.1M1317.50 1160.50v4.1M1337.50 1160.50v4.1M1356.50 1160.50v4.1M1375.50 1160.50v4.1M1395.50 1160.50v4.1M1414.50 1160.50v4.1M1433.50 1160.50v4.1M1453.50 1160.50v4.1M1472.50 1160.50v4.1M1491.50 1160.50v4.1M1511.50 1160.50v4.1M1530.50 1160.50v4.1M1550.50 1160.50v4.1M1569.50 1160.50v4.1M1588.50 1160.50v4.1M1608.50 1160.50v4.1M1627.50 1160.50v4.1M1138.50 1160.50h-4.1M1138.50 1128.50h-4.1M1138.50 1097.50h-4.1M1138.50 1065.50h-4.1M1138.50 1034.50h-4.1M1138.50 1002.50h-4.1M1138.50 971.50h-4.1M1138.50 939.50h-4.1" stroke="#000" stroke-width="1.15" fill="none"/>
<text x="0" y="8.5" font-size="26" text-anchor="end" transform="translate(1129.20 1161.20) scale(1 1.085)">58</text>
<text x="0" y="8.5" font-size="26" text-anchor="end" transform="translate(1129.20 1129.64) scale(1 1.085)">60</text>
<text x="0" y="8.5" font-size="26" text-anchor="end" transform="translate(1129.20 1098.09) scale(1 1.085)">62</text>
<text x="0" y="8.5" font-size="26" text-anchor="end" transform="translate(1129.20 1066.53) scale(1 1.085)">64</text>
<text x="0" y="8.5" font-size="26" text-anchor="end" transform="translate(1129.20 1034.97) scale(1 1.085)">66</text>
<text x="0" y="8.5" font-size="26" text-anchor="end" transform="translate(1129.20 1003.41) scale(1 1.085)">68</text>
<text x="0" y="8.5" font-size="26" text-anchor="end" transform="translate(1129.20 971.86) scale(1 1.085)">70</text>
<text x="0" y="8.5" font-size="26" text-anchor="end" transform="translate(1129.20 940.30) scale(1 1.085)">72</text>
<text x="1142.20" y="1187.54" font-size="16" text-anchor="middle" dominant-baseline="central" transform="rotate(-45 1142.20 1187.54)">50000</text>
<text x="1161.56" y="1187.54" font-size="16" text-anchor="middle" dominant-baseline="central" transform="rotate(-45 1161.56 1187.54)">48000</text>
<text x="1180.93" y="1187.54" font-size="16" text-anchor="middle" dominant-baseline="central" transform="rotate(-45 1180.93 1187.54)">46000</text>
<text x="1200.29" y="1187.54" font-size="16" text-anchor="middle" dominant-baseline="central" transform="rotate(-45 1200.29 1187.54)">44000</text>
<text x="1219.66" y="1187.54" font-size="16" text-anchor="middle" dominant-baseline="central" transform="rotate(-45 1219.66 1187.54)">42000</text>
<text x="1239.02" y="1187.54" font-size="16" text-anchor="middle" dominant-baseline="central" transform="rotate(-45 1239.02 1187.54)">40000</text>
<text x="1258.38" y="1187.54" font-size="16" text-anchor="middle" dominant-baseline="central" transform="rotate(-45 1258.38 1187.54)">38000</text>
<text x="1277.75" y="1187.54" font-size="16" text-anchor="middle" dominant-baseline="central" transform="rotate(-45 1277.75 1187.54)">36000</text>
<text x="1297.11" y="1187.54" font-size="16" text-anchor="middle" dominant-baseline="central" transform="rotate(-45 1297.11 1187.54)">34000</text>
<text x="1316.48" y="1187.54" font-size="16" text-anchor="middle" dominant-baseline="central" transform="rotate(-45 1316.48 1187.54)">32000</text>
<text x="1335.84" y="1187.54" font-size="16" text-anchor="middle" dominant-baseline="central" transform="rotate(-45 1335.84 1187.54)">30000</text>
<text x="1355.20" y="1187.54" font-size="16" text-anchor="middle" dominant-baseline="central" transform="rotate(-45 1355.20 1187.54)">28000</text>
<text x="1374.57" y="1187.54" font-size="16" text-anchor="middle" dominant-baseline="central" transform="rotate(-45 1374.57 1187.54)">26000</text>
<text x="1393.93" y="1187.54" font-size="16" text-anchor="middle" dominant-baseline="central" transform="rotate(-45 1393.93 1187.54)">24000</text>
<text x="1413.30" y="1187.54" font-size="16" text-anchor="middle" dominant-baseline="central" transform="rotate(-45 1413.30 1187.54)">22000</text>
<text x="1432.66" y="1187.54" font-size="16" text-anchor="middle" dominant-baseline="central" transform="rotate(-45 1432.66 1187.54)">20000</text>
<text x="1452.02" y="1187.54" font-size="16" text-anchor="middle" dominant-baseline="central" transform="rotate(-45 1452.02 1187.54)">18000</text>
<text x="1471.39" y="1187.54" font-size="16" text-anchor="middle" dominant-baseline="central" transform="rotate(-45 1471.39 1187.54)">16000</text>
<text x="1490.75" y="1187.54" font-size="16" text-anchor="middle" dominant-baseline="central" transform="rotate(-45 1490.75 1187.54)">14000</text>
<text x="1510.12" y="1187.54" font-size="16" text-anchor="middle" dominant-baseline="central" transform="rotate(-45 1510.12 1187.54)">12000</text>
<text x="1529.48" y="1187.54" font-size="16" text-anchor="middle" dominant-baseline="central" transform="rotate(-45 1529.48 1187.54)">10000</text>
<text x="1548.84" y="1184.72" font-size="16" text-anchor="middle" dominant-baseline="central" transform="rotate(-45 1548.84 1184.72)">8000</text>
<text x="1568.21" y="1184.72" font-size="16" text-anchor="middle" dominant-baseline="central" transform="rotate(-45 1568.21 1184.72)">6000</text>
<text x="1587.57" y="1184.72" font-size="16" text-anchor="middle" dominant-baseline="central" transform="rotate(-45 1587.57 1184.72)">4000</text>
<text x="1606.94" y="1184.72" font-size="16" text-anchor="middle" dominant-baseline="central" transform="rotate(-45 1606.94 1184.72)">2000</text>
<text x="1626.30" y="1176.23" font-size="16" text-anchor="middle" dominant-baseline="central" transform="rotate(-45 1626.30 1176.23)">0</text>
<text x="1382.95" y="1229.98" font-size="24" text-anchor="middle">Inference MACs (M)</text>
<rect x="1149.60" y="1022.75" width="243.38" height="126.55" rx="4" ry="4" fill="#fff" fill-opacity="0.8" stroke="#cccccc" stroke-width="1"/>
<line x1="1158.60" y1="1038.45" x2="1200.30" y2="1038.45" stroke="#0000ff" stroke-width="4" stroke-linecap="square"/>
<text x="1217.90" y="1045.65" font-size="21.3">UGS (Ours)</text>
<line x1="1158.60" y1="1068.50" x2="1200.30" y2="1068.50" stroke="#ff8c0f" stroke-width="4" stroke-linecap="square"/>
<text x="1217.90" y="1075.70" font-size="21.3">Random Pruning</text>
<line x1="1158.40" y1="1098.55" x2="1202.50" y2="1098.55" stroke="#000" stroke-width="4" stroke-dasharray="14.7 6.7"/>
<text x="1217.90" y="1105.75" font-size="21.3">Baseline (50293M)</text>
<polygon points="1179.50,1123.00 1181.25,1128.39 1186.92,1128.39 1182.33,1131.72 1184.08,1137.11 1179.50,1133.78 1174.92,1137.11 1176.67,1131.72 1172.08,1128.39 1177.75,1128.39" fill="#ff0000" stroke="#ff0000" stroke-width="0.8" stroke-linejoin="miter"/>
<text x="1217.90" y="1135.80" font-size="21.3">GLT (2233M)</text>
<clipPath id="c40"><rect x="63.4" y="1243.4" width="488.9" height="220.79999999999995"/></clipPath>
<path d="M78.50 1464.20V1243.40M113.50 1464.20V1243.40M148.50 1464.20V1243.40M180.50 1464.20V1243.40M211.50 1464.20V1243.40M240.50 1464.20V1243.40M268.50 1464.20V1243.40M294.50 1464.20V1243.40M319.50 1464.20V1243.40M343.50 1464.20V1243.40M366.50 1464.20V1243.40M387.50 1464.20V1243.40M408.50 1464.20V1243.40M427.50 1464.20V1243.40M446.50 1464.20V1243.40M463.50 1464.20V1243.40M480.50 1464.20V1243.40M496.50 1464.20V1243.40M511.50 1464.20V1243.40M525.50 1464.20V1243.40M539.50 1464.20V1243.40M63.40 1440.50H552.30M63.40 1393.50H552.30M63.40 1346.50H552.30M63.40 1300.50H552.30M63.40 1253.50H552.30" stroke="#a6a6a6" stroke-width="1" stroke-dasharray="3.7 1.9" fill="none" clip-path="url(#c40)"/>
<g clip-path="url(#c40)">
<line x1="63.40" y1="1256.91" x2="572.30" y2="1256.91" stroke="#000" stroke-width="4" stroke-dasharray="14.8 6.4"/>
<polyline points="78.00,1256.68 113.94,1252.47 148.08,1255.27 180.50,1256.21 211.33,1256.21 240.59,1256.21 268.41,1252.47 294.86,1257.61 319.94,1257.61 343.81,1257.61 366.45,1256.21 387.94,1256.21 408.35,1255.74 427.83,1255.27 446.23,1254.81 463.77,1258.55 480.45,1254.81 496.26,1256.68 511.28,1266.03 525.51,1271.17 539.10,1265.09" fill="none" stroke="#0000ff" stroke-width="4.0" stroke-linejoin="round" stroke-linecap="square"/>
<polyline points="78.00,1256.21 113.94,1255.27 148.08,1255.27 180.50,1260.42 211.33,1273.04 240.59,1263.69 268.41,1262.75 294.86,1255.74 319.94,1270.23 343.81,1270.23 366.45,1263.69 387.94,1280.05 408.35,1280.05 427.83,1295.95 446.23,1295.48 463.77,1285.66 480.45,1313.24 496.26,1321.19 511.28,1337.09 525.51,1391.78 539.10,1456.30" fill="none" stroke="#ff8c0f" stroke-width="4.0" stroke-linejoin="round" stroke-linecap="square"/>
<polyline points="78.00,1256.68 113.94,1256.68 148.08,1256.68 180.50,1256.68 211.33,1256.68 240.59,1259.25 268.41,1262.75 294.86,1261.59 319.94,1260.42 343.81,1258.31 366.45,1261.59 387.94,1261.59 408.35,1262.75 427.83,1273.04 446.23,1260.42 463.77,1266.03 480.45,1273.04 496.26,1273.04 511.28,1267.20 525.51,1276.31 539.10,1274.68" fill="none" stroke="#228b22" stroke-width="4.0" stroke-linejoin="round" stroke-linecap="square"/>
</g>
<polygon points="496.26,1248.64 498.01,1254.03 503.68,1254.03 499.09,1257.36 500.85,1262.75 496.26,1259.42 491.68,1262.75 493.43,1257.36 488.84,1254.03 494.51,1254.03" fill="#ff0000" stroke="#ff0000" stroke-width="0.8" stroke-linejoin="miter"/>
<rect x="63.50" y="1243.50" width="489.00" height="221.00" fill="none" stroke="#000" stroke-width="1.15"/>
<path d="M78.50 1464.50v4.1M113.50 1464.50v4.1M148.50 1464.50v4.1M180.50 1464.50v4.1M211.50 1464.50v4.1M240.50 1464.50v4.1M268.50 1464.50v4.1M294.50 1464.50v4.1M319.50 1464.50v4.1M343.50 1464.50v4.1M366.50 1464.50v4.1M387.50 1464.50v4.1M408.50 1464.50v4.1M427.50 1464.50v4.1M446.50 1464.50v4.1M463.50 1464.50v4.1M480.50 1464.50v4.1M496.50 1464.50v4.1M511.50 1464.50v4.1M525.50 1464.50v4.1M539.50 1464.50v4.1M63.50 1440.50h-4.1M63.50 1393.50h-4.1M63.50 1346.50h-4.1M63.50 1300.50h-4.1M63.50 1253.50h-4.1" stroke="#000" stroke-width="1.15" fill="none"/>
<text x="0" y="8.5" font-size="26" text-anchor="end" transform="translate(54.20 1441.20) scale(1 1.085)">40</text>
<text x="0" y="8.5" font-size="26" text-anchor="end" transform="translate(54.20 1394.45) scale(1 1.085)">50</text>
<text x="0" y="8.5" font-size="26" text-anchor="end" transform="translate(54.20 1347.70) scale(1 1.085)">60</text>
<text x="0" y="8.5" font-size="26" text-anchor="end" transform="translate(54.20 1300.95) scale(1 1.085)">70</text>
<text x="0" y="8.5" font-size="26" text-anchor="end" transform="translate(54.20 1254.20) scale(1 1.085)">80</text>
<text x="76.80" y="1487.10" font-size="16" text-anchor="middle" dominant-baseline="central" transform="rotate(-45 76.80 1487.10)">0.00</text>
<text x="112.74" y="1487.10" font-size="16" text-anchor="middle" dominant-baseline="central" transform="rotate(-45 112.74 1487.10)">5.00</text>
<text x="146.88" y="1487.10" font-size="16" text-anchor="middle" dominant-baseline="central" transform="rotate(-45 146.88 1487.10)">9.75</text>
<text x="179.30" y="1489.93" font-size="16" text-anchor="middle" dominant-baseline="central" transform="rotate(-45 179.30 1489.93)">14.26</text>
<text x="210.13" y="1489.93" font-size="16" text-anchor="middle" dominant-baseline="central" transform="rotate(-45 210.13 1489.93)">18.55</text>
<text x="239.39" y="1489.93" font-size="16" text-anchor="middle" dominant-baseline="central" transform="rotate(-45 239.39 1489.93)">22.62</text>
<text x="267.21" y="1489.93" font-size="16" text-anchor="middle" dominant-baseline="central" transform="rotate(-45 267.21 1489.93)">26.49</text>
<text x="293.66" y="1489.93" font-size="16" text-anchor="middle" dominant-baseline="central" transform="rotate(-45 293.66 1489.93)">30.17</text>
<text x="318.74" y="1489.93" font-size="16" text-anchor="middle" dominant-baseline="central" transform="rotate(-45 318.74 1489.93)">33.66</text>
<text x="342.61" y="1489.93" font-size="16" text-anchor="middle" dominant-baseline="central" transform="rotate(-45 342.61 1489.93)">36.98</text>
<text x="365.25" y="1489.93" font-size="16" text-anchor="middle" dominant-baseline="central" transform="rotate(-45 365.25 1489.93)">40.13</text>
<text x="386.74" y="1489.93" font-size="16" text-anchor="middle" dominant-baseline="central" transform="rotate(-45 386.74 1489.93)">43.12</text>
<text x="407.15" y="1489.93" font-size="16" text-anchor="middle" dominant-baseline="central" transform="rotate(-45 407.15 1489.93)">45.96</text>
<text x="426.63" y="1489.93" font-size="16" text-anchor="middle" dominant-baseline="central" transform="rotate(-45 426.63 1489.93)">48.67</text>
<text x="445.03" y="1489.93" font-size="16" text-anchor="middle" dominant-baseline="central" transform="rotate(-45 445.03 1489.93)">51.23</text>
<text x="462.57" y="1489.93" font-size="16" text-anchor="middle" dominant-baseline="central" transform="rotate(-45 462.57 1489.93)">53.67</text>
<text x="479.25" y="1489.93" font-size="16" text-anchor="middle" dominant-baseline="central" transform="rotate(-45 479.25 1489.93)">55.99</text>
<text x="495.06" y="1489.93" font-size="16" text-anchor="middle" dominant-baseline="central" transform="rotate(-45 495.06 1489.93)">58.19</text>
<text x="510.08" y="1489.93" font-size="16" text-anchor="middle" dominant-baseline="central" transform="rotate(-45 510.08 1489.93)">60.28</text>
<text x="524.31" y="1489.93" font-size="16" text-anchor="middle" dominant-baseline="central" transform="rotate(-45 524.31 1489.93)">62.26</text>
<text x="537.90" y="1489.93" font-size="16" text-anchor="middle" dominant-baseline="central" transform="rotate(-45 537.90 1489.93)">64.15</text>
<text x="307.85" y="1530.96" font-size="24" text-anchor="middle">Graph Sparsity (%)</text>
<text x="17.6" y="1353.80" font-size="24" text-anchor="middle" transform="rotate(-90 17.6 1353.80)">Accuracy (PubMed)</text>
<rect x="74.60" y="1296.50" width="223.30" height="156.60" rx="4" ry="4" fill="#fff" fill-opacity="0.8" stroke="#cccccc" stroke-width="1"/>
<line x1="83.60" y1="1312.20" x2="125.30" y2="1312.20" stroke="#0000ff" stroke-width="4" stroke-linecap="square"/>
<text x="142.90" y="1319.40" font-size="21.3">UGS (Ours)</text>
<line x1="83.60" y1="1342.25" x2="125.30" y2="1342.25" stroke="#ff8c0f" stroke-width="4" stroke-linecap="square"/>
<text x="142.90" y="1349.45" font-size="21.3">Random Pruning</text>
<line x1="83.60" y1="1372.30" x2="125.30" y2="1372.30" stroke="#228b22" stroke-width="4" stroke-linecap="square"/>
<text x="142.90" y="1379.50" font-size="21.3">ADMM</text>
<line x1="83.40" y1="1402.35" x2="127.50" y2="1402.35" stroke="#000" stroke-width="4" stroke-dasharray="14.7 6.7"/>
<text x="142.90" y="1409.55" font-size="21.3">Baseline</text>
<polygon points="104.50,1426.80 106.25,1432.19 111.92,1432.19 107.33,1435.52 109.08,1440.91 104.50,1437.58 99.92,1440.91 101.67,1435.52 97.08,1432.19 102.75,1432.19" fill="#ff0000" stroke="#ff0000" stroke-width="0.8" stroke-linejoin="miter"/>
<text x="142.90" y="1439.60" font-size="21.3">GLT</text>
<clipPath id="c41"><rect x="601.5" y="1243.4" width="487.79999999999995" height="220.79999999999995"/></clipPath>
<path d="M615.50 1464.20V1243.40M651.50 1464.20V1243.40M685.50 1464.20V1243.40M718.50 1464.20V1243.40M748.50 1464.20V1243.40M778.50 1464.20V1243.40M805.50 1464.20V1243.40M832.50 1464.20V1243.40M857.50 1464.20V1243.40M881.50 1464.20V1243.40M903.50 1464.20V1243.40M925.50 1464.20V1243.40M945.50 1464.20V1243.40M965.50 1464.20V1243.40M983.50 1464.20V1243.40M1001.50 1464.20V1243.40M1017.50 1464.20V1243.40M1033.50 1464.20V1243.40M1048.50 1464.20V1243.40M1063.50 1464.20V1243.40M1076.50 1464.20V1243.40M601.50 1464.50H1089.30M601.50 1420.50H1089.30M601.50 1375.50H1089.30M601.50 1331.50H1089.30M601.50 1287.50H1089.30M601.50 1243.50H1089.30" stroke="#a6a6a6" stroke-width="1" stroke-dasharray="3.7 1.9" fill="none" clip-path="url(#c41)"/>
<g clip-path="url(#c41)">
<line x1="601.50" y1="1294.18" x2="1109.30" y2="1294.18" stroke="#000" stroke-width="4" stroke-dasharray="14.8 6.4"/>
<polyline points="615.60,1294.18 651.53,1291.98 685.67,1287.56 718.08,1272.10 748.91,1257.75 778.15,1262.17 805.96,1298.60 832.41,1293.08 857.49,1291.98 881.35,1287.56 903.99,1304.12 925.47,1278.73 945.88,1278.73 965.36,1285.35 983.75,1309.64 1001.29,1323.99 1017.96,1344.97 1033.77,1351.59 1048.79,1331.72 1063.02,1312.95 1076.60,1340.55" fill="none" stroke="#0000ff" stroke-width="4.0" stroke-linejoin="round" stroke-linecap="square"/>
<polyline points="615.60,1291.98 651.53,1311.85 685.67,1298.60 718.08,1304.12 748.91,1322.89 778.15,1309.64 805.96,1350.49 832.41,1332.82 857.49,1337.24 881.35,1342.76 903.99,1317.37 925.47,1331.72 945.88,1358.22 965.36,1369.26 983.75,1393.54 1001.29,1364.84 1017.96,1391.34 1033.77,1361.53 1048.79,1404.58 1063.02,1397.96 1076.60,1420.04" fill="none" stroke="#ff8c0f" stroke-width="4.0" stroke-linejoin="round" stroke-linecap="square"/>
</g>
<polygon points="965.36,1276.45 967.11,1281.84 972.77,1281.84 968.19,1285.17 969.94,1290.56 965.36,1287.23 960.77,1290.56 962.52,1285.17 957.94,1281.84 963.61,1281.84" fill="#ff0000" stroke="#ff0000" stroke-width="0.8" stroke-linejoin="miter"/>
<rect x="601.50" y="1243.50" width="488.00" height="221.00" fill="none" stroke="#000" stroke-width="1.15"/>
<path d="M615.50 1464.50v4.1M651.50 1464.50v4.1M685.50 1464.50v4.1M718.50 1464.50v4.1M748.50 1464.50v4.1M778.50 1464.50v4.1M805.50 1464.50v4.1M832.50 1464.50v4.1M857.50 1464.50v4.1M881.50 1464.50v4.1M903.50 1464.50v4.1M925.50 1464.50v4.1M945.50 1464.50v4.1M965.50 1464.50v4.1M983.50 1464.50v4.1M1001.50 1464.50v4.1M1017.50 1464.50v4.1M1033.50 1464.50v4.1M1048.50 1464.50v4.1M1063.50 1464.50v4.1M1076.50 1464.50v4.1M601.50 1464.50h-4.1M601.50 1420.50h-4.1M601.50 1375.50h-4.1M601.50 1331.50h-4.1M601.50 1287.50h-4.1M601.50 1243.50h-4.1" stroke="#000" stroke-width="1.15" fill="none"/>
<text x="0" y="8.5" font-size="26" text-anchor="end" transform="translate(592.30 1465.00) scale(1 1.085)">70</text>
<text x="0" y="8.5" font-size="26" text-anchor="end" transform="translate(592.30 1420.84) scale(1 1.085)">72</text>
<text x="0" y="8.5" font-size="26" text-anchor="end" transform="translate(592.30 1376.68) scale(1 1.085)">74</text>
<text x="0" y="8.5" font-size="26" text-anchor="end" transform="translate(592.30 1332.52) scale(1 1.085)">76</text>
<text x="0" y="8.5" font-size="26" text-anchor="end" transform="translate(592.30 1288.36) scale(1 1.085)">78</text>
<text x="0" y="8.5" font-size="26" text-anchor="end" transform="translate(592.30 1244.20) scale(1 1.085)">80</text>
<text x="614.40" y="1487.10" font-size="16" text-anchor="middle" dominant-baseline="central" transform="rotate(-45 614.40 1487.10)">0.00</text>
<text x="650.33" y="1487.10" font-size="16" text-anchor="middle" dominant-baseline="central" transform="rotate(-45 650.33 1487.10)">5.00</text>
<text x="684.47" y="1487.10" font-size="16" text-anchor="middle" dominant-baseline="central" transform="rotate(-45 684.47 1487.10)">9.75</text>
<text x="716.88" y="1489.93" font-size="16" text-anchor="middle" dominant-baseline="central" transform="rotate(-45 716.88 1489.93)">14.26</text>
<text x="747.71" y="1489.93" font-size="16" text-anchor="middle" dominant-baseline="central" transform="rotate(-45 747.71 1489.93)">18.55</text>
<text x="776.95" y="1489.93" font-size="16" text-anchor="middle" dominant-baseline="central" transform="rotate(-45 776.95 1489.93)">22.62</text>
<text x="804.76" y="1489.93" font-size="16" text-anchor="middle" dominant-baseline="central" transform="rotate(-45 804.76 1489.93)">26.49</text>
<text x="831.21" y="1489.93" font-size="16" text-anchor="middle" dominant-baseline="central" transform="rotate(-45 831.21 1489.93)">30.17</text>
<text x="856.29" y="1489.93" font-size="16" text-anchor="middle" dominant-baseline="central" transform="rotate(-45 856.29 1489.93)">33.66</text>
<text x="880.15" y="1489.93" font-size="16" text-anchor="middle" dominant-baseline="central" transform="rotate(-45 880.15 1489.93)">36.98</text>
<text x="902.79" y="1489.93" font-size="16" text-anchor="middle" dominant-baseline="central" transform="rotate(-45 902.79 1489.93)">40.13</text>
<text x="924.27" y="1489.93" font-size="16" text-anchor="middle" dominant-baseline="central" transform="rotate(-45 924.27 1489.93)">43.12</text>
<text x="944.68" y="1489.93" font-size="16" text-anchor="middle" dominant-baseline="central" transform="rotate(-45 944.68 1489.93)">45.96</text>
<text x="964.16" y="1489.93" font-size="16" text-anchor="middle" dominant-baseline="central" transform="rotate(-45 964.16 1489.93)">48.67</text>
<text x="982.55" y="1489.93" font-size="16" text-anchor="middle" dominant-baseline="central" transform="rotate(-45 982.55 1489.93)">51.23</text>
<text x="1000.09" y="1489.93" font-size="16" text-anchor="middle" dominant-baseline="central" transform="rotate(-45 1000.09 1489.93)">53.67</text>
<text x="1016.76" y="1489.93" font-size="16" text-anchor="middle" dominant-baseline="central" transform="rotate(-45 1016.76 1489.93)">55.99</text>
<text x="1032.57" y="1489.93" font-size="16" text-anchor="middle" dominant-baseline="central" transform="rotate(-45 1032.57 1489.93)">58.19</text>
<text x="1047.59" y="1489.93" font-size="16" text-anchor="middle" dominant-baseline="central" transform="rotate(-45 1047.59 1489.93)">60.28</text>
<text x="1061.82" y="1489.93" font-size="16" text-anchor="middle" dominant-baseline="central" transform="rotate(-45 1061.82 1489.93)">62.26</text>
<text x="1075.40" y="1489.93" font-size="16" text-anchor="middle" dominant-baseline="central" transform="rotate(-45 1075.40 1489.93)">64.15</text>
<text x="845.40" y="1530.96" font-size="24" text-anchor="middle">Graph Sparsity</text>
<rect x="612.70" y="1326.55" width="223.30" height="126.55" rx="4" ry="4" fill="#fff" fill-opacity="0.8" stroke="#cccccc" stroke-width="1"/>
<line x1="621.70" y1="1342.25" x2="663.40" y2="1342.25" stroke="#0000ff" stroke-width="4" stroke-linecap="square"/>
<text x="681.00" y="1349.45" font-size="21.3">UGS (Ours)</text>
<line x1="621.70" y1="1372.30" x2="663.40" y2="1372.30" stroke="#ff8c0f" stroke-width="4" stroke-linecap="square"/>
<text x="681.00" y="1379.50" font-size="21.3">Random Pruning</text>
<line x1="621.50" y1="1402.35" x2="665.60" y2="1402.35" stroke="#000" stroke-width="4" stroke-dasharray="14.7 6.7"/>
<text x="681.00" y="1409.55" font-size="21.3">Baseline</text>
<polygon points="642.60,1426.80 644.35,1432.19 650.02,1432.19 645.43,1435.52 647.18,1440.91 642.60,1437.58 638.02,1440.91 639.77,1435.52 635.18,1432.19 640.85,1432.19" fill="#ff0000" stroke="#ff0000" stroke-width="0.8" stroke-linejoin="miter"/>
<text x="681.00" y="1439.60" font-size="21.3">GLT</text>
<clipPath id="c42"><rect x="1138.4" y="1243.4" width="489.0999999999999" height="220.79999999999995"/></clipPath>
<path d="M1152.50 1464.20V1243.40M1188.50 1464.20V1243.40M1222.50 1464.20V1243.40M1255.50 1464.20V1243.40M1286.50 1464.20V1243.40M1315.50 1464.20V1243.40M1343.50 1464.20V1243.40M1369.50 1464.20V1243.40M1394.50 1464.20V1243.40M1418.50 1464.20V1243.40M1441.50 1464.20V1243.40M1462.50 1464.20V1243.40M1483.50 1464.20V1243.40M1502.50 1464.20V1243.40M1521.50 1464.20V1243.40M1538.50 1464.20V1243.40M1555.50 1464.20V1243.40M1571.50 1464.20V1243.40M1586.50 1464.20V1243.40M1600.50 1464.20V1243.40M1614.50 1464.20V1243.40M1138.40 1464.50H1627.50M1138.40 1427.50H1627.50M1138.40 1390.50H1627.50M1138.40 1353.50H1627.50M1138.40 1317.50H1627.50M1138.40 1280.50H1627.50M1138.40 1243.50H1627.50" stroke="#a6a6a6" stroke-width="1" stroke-dasharray="3.7 1.9" fill="none" clip-path="url(#c42)"/>
<g clip-path="url(#c42)">
<line x1="1138.40" y1="1298.60" x2="1647.50" y2="1298.60" stroke="#000" stroke-width="4" stroke-dasharray="14.8 6.4"/>
<polyline points="1152.80,1298.60 1188.75,1280.20 1222.90,1283.88 1255.32,1283.88 1286.16,1291.24 1315.42,1291.24 1343.25,1283.88 1369.70,1287.56 1394.80,1272.84 1418.66,1272.84 1441.31,1272.84 1462.81,1254.44 1483.22,1254.44 1502.71,1269.16 1521.11,1276.52 1538.66,1265.48 1555.33,1261.80 1571.15,1294.92 1586.18,1313.32 1600.41,1317.00 1614.00,1335.40" fill="none" stroke="#0000ff" stroke-width="4.0" stroke-linejoin="round" stroke-linecap="square"/>
<polyline points="1152.80,1298.60 1188.75,1320.68 1222.90,1324.36 1255.32,1317.00 1286.16,1324.36 1315.42,1320.68 1343.25,1309.64 1369.70,1305.96 1394.80,1309.64 1418.66,1305.96 1441.31,1305.96 1462.81,1302.28 1483.22,1305.96 1502.71,1331.72 1521.11,1324.36 1538.66,1302.28 1555.33,1305.96 1571.15,1309.64 1586.18,1342.76 1600.41,1370.36 1614.00,1394.28" fill="none" stroke="#ff8c0f" stroke-width="4.0" stroke-linejoin="round" stroke-linecap="square"/>
</g>
<polygon points="1571.15,1287.12 1572.90,1292.51 1578.57,1292.51 1573.98,1295.84 1575.74,1301.23 1571.15,1297.90 1566.57,1301.23 1568.32,1295.84 1563.73,1292.51 1569.40,1292.51" fill="#ff0000" stroke="#ff0000" stroke-width="0.8" stroke-linejoin="miter"/>
<rect x="1138.50" y="1243.50" width="489.00" height="221.00" fill="none" stroke="#000" stroke-width="1.15"/>
<path d="M1152.50 1464.50v4.1M1188.50 1464.50v4.1M1222.50 1464.50v4.1M1255.50 1464.50v4.1M1286.50 1464.50v4.1M1315.50 1464.50v4.1M1343.50 1464.50v4.1M1369.50 1464.50v4.1M1394.50 1464.50v4.1M1418.50 1464.50v4.1M1441.50 1464.50v4.1M1462.50 1464.50v4.1M1483.50 1464.50v4.1M1502.50 1464.50v4.1M1521.50 1464.50v4.1M1538.50 1464.50v4.1M1555.50 1464.50v4.1M1571.50 1464.50v4.1M1586.50 1464.50v4.1M1600.50 1464.50v4.1M1614.50 1464.50v4.1M1138.50 1464.50h-4.1M1138.50 1427.50h-4.1M1138.50 1390.50h-4.1M1138.50 1353.50h-4.1M1138.50 1317.50h-4.1M1138.50 1280.50h-4.1M1138.50 1243.50h-4.1" stroke="#000" stroke-width="1.15" fill="none"/>
<text x="0" y="8.5" font-size="26" text-anchor="end" transform="translate(1129.20 1465.00) scale(1 1.085)">74</text>
<text x="0" y="8.5" font-size="26" text-anchor="end" transform="translate(1129.20 1428.20) scale(1 1.085)">75</text>
<text x="0" y="8.5" font-size="26" text-anchor="end" transform="translate(1129.20 1391.40) scale(1 1.085)">76</text>
<text x="0" y="8.5" font-size="26" text-anchor="end" transform="translate(1129.20 1354.60) scale(1 1.085)">77</text>
<text x="0" y="8.5" font-size="26" text-anchor="end" transform="translate(1129.20 1317.80) scale(1 1.085)">78</text>
<text x="0" y="8.5" font-size="26" text-anchor="end" transform="translate(1129.20 1281.00) scale(1 1.085)">79</text>
<text x="0" y="8.5" font-size="26" text-anchor="end" transform="translate(1129.20 1244.20) scale(1 1.085)">80</text>
<text x="1151.60" y="1487.10" font-size="16" text-anchor="middle" dominant-baseline="central" transform="rotate(-45 1151.60 1487.10)">0.00</text>
<text x="1187.55" y="1487.10" font-size="16" text-anchor="middle" dominant-baseline="central" transform="rotate(-45 1187.55 1487.10)">5.00</text>
<text x="1221.70" y="1487.10" font-size="16" text-anchor="middle" dominant-baseline="central" transform="rotate(-45 1221.70 1487.10)">9.75</text>
<text x="1254.12" y="1489.93" font-size="16" text-anchor="middle" dominant-baseline="central" transform="rotate(-45 1254.12 1489.93)">14.26</text>
<text x="1284.96" y="1489.93" font-size="16" text-anchor="middle" dominant-baseline="central" transform="rotate(-45 1284.96 1489.93)">18.55</text>
<text x="1314.22" y="1489.93" font-size="16" text-anchor="middle" dominant-baseline="central" transform="rotate(-45 1314.22 1489.93)">22.62</text>
<text x="1342.05" y="1489.93" font-size="16" text-anchor="middle" dominant-baseline="central" transform="rotate(-45 1342.05 1489.93)">26.49</text>
<text x="1368.50" y="1489.93" font-size="16" text-anchor="middle" dominant-baseline="central" transform="rotate(-45 1368.50 1489.93)">30.17</text>
<text x="1393.60" y="1489.93" font-size="16" text-anchor="middle" dominant-baseline="central" transform="rotate(-45 1393.60 1489.93)">33.66</text>
<text x="1417.46" y="1489.93" font-size="16" text-anchor="middle" dominant-baseline="central" transform="rotate(-45 1417.46 1489.93)">36.98</text>
<text x="1440.11" y="1489.93" font-size="16" text-anchor="middle" dominant-baseline="central" transform="rotate(-45 1440.11 1489.93)">40.13</text>
<text x="1461.61" y="1489.93" font-size="16" text-anchor="middle" dominant-baseline="central" transform="rotate(-45 1461.61 1489.93)">43.12</text>
<text x="1482.02" y="1489.93" font-size="16" text-anchor="middle" dominant-baseline="central" transform="rotate(-45 1482.02 1489.93)">45.96</text>
<text x="1501.51" y="1489.93" font-size="16" text-anchor="middle" dominant-baseline="central" transform="rotate(-45 1501.51 1489.93)">48.67</text>
<text x="1519.91" y="1489.93" font-size="16" text-anchor="middle" dominant-baseline="central" transform="rotate(-45 1519.91 1489.93)">51.23</text>
<text x="1537.46" y="1489.93" font-size="16" text-anchor="middle" dominant-baseline="central" transform="rotate(-45 1537.46 1489.93)">53.67</text>
<text x="1554.13" y="1489.93" font-size="16" text-anchor="middle" dominant-baseline="central" transform="rotate(-45 1554.13 1489.93)">55.99</text>
<text x="1569.95" y="1489.93" font-size="16" text-anchor="middle" dominant-baseline="central" transform="rotate(-45 1569.95 1489.93)">58.19</text>
<text x="1584.98" y="1489.93" font-size="16" text-anchor="middle" dominant-baseline="central" transform="rotate(-45 1584.98 1489.93)">60.28</text>
<text x="1599.21" y="1489.93" font-size="16" text-anchor="middle" dominant-baseline="central" transform="rotate(-45 1599.21 1489.93)">62.26</text>
<text x="1612.80" y="1489.93" font-size="16" text-anchor="middle" dominant-baseline="central" transform="rotate(-45 1612.80 1489.93)">64.15</text>
<text x="1382.95" y="1530.96" font-size="24" text-anchor="middle">Graph Sparsity (%)</text>
<rect x="1149.60" y="1326.55" width="223.30" height="126.55" rx="4" ry="4" fill="#fff" fill-opacity="0.8" stroke="#cccccc" stroke-width="1"/>
<line x1="1158.60" y1="1342.25" x2="1200.30" y2="1342.25" stroke="#0000ff" stroke-width="4" stroke-linecap="square"/>
<text x="1217.90" y="1349.45" font-size="21.3">UGS (Ours)</text>
<line x1="1158.60" y1="1372.30" x2="1200.30" y2="1372.30" stroke="#ff8c0f" stroke-width="4" stroke-linecap="square"/>
<text x="1217.90" y="1379.50" font-size="21.3">Random Pruning</text>
<line x1="1158.40" y1="1402.35" x2="1202.50" y2="1402.35" stroke="#000" stroke-width="4" stroke-dasharray="14.7 6.7"/>
<text x="1217.90" y="1409.55" font-size="21.3">Baseline</text>
<polygon points="1179.50,1426.80 1181.25,1432.19 1186.92,1432.19 1182.33,1435.52 1184.08,1440.91 1179.50,1437.58 1174.92,1440.91 1176.67,1435.52 1172.08,1432.19 1177.75,1432.19" fill="#ff0000" stroke="#ff0000" stroke-width="0.8" stroke-linejoin="miter"/>
<text x="1217.90" y="1439.60" font-size="21.3">GLT</text>
<clipPath id="c50"><rect x="63.4" y="1548.3" width="488.9" height="220.10000000000014"/></clipPath>
<path d="M82.50 1768.40V1548.30M105.50 1768.40V1548.30M129.50 1768.40V1548.30M152.50 1768.40V1548.30M176.50 1768.40V1548.30M199.50 1768.40V1548.30M223.50 1768.40V1548.30M246.50 1768.40V1548.30M270.50 1768.40V1548.30M293.50 1768.40V1548.30M317.50 1768.40V1548.30M340.50 1768.40V1548.30M364.50 1768.40V1548.30M387.50 1768.40V1548.30M411.50 1768.40V1548.30M434.50 1768.40V1548.30M458.50 1768.40V1548.30M481.50 1768.40V1548.30M505.50 1768.40V1548.30M528.50 1768.40V1548.30M552.50 1768.40V1548.30M63.40 1744.50H552.30M63.40 1697.50H552.30M63.40 1650.50H552.30M63.40 1604.50H552.30M63.40 1557.50H552.30" stroke="#a6a6a6" stroke-width="1" stroke-dasharray="3.7 1.9" fill="none" clip-path="url(#c50)"/>
<g clip-path="url(#c50)">
<line x1="53.29" y1="1560.84" x2="572.30" y2="1560.84" stroke="#000" stroke-width="4" stroke-dasharray="14.8 6.4"/>
<polyline points="66.40,1560.61 162.90,1556.39 240.09,1559.20 301.85,1560.14 351.25,1560.14 390.78,1560.14 422.40,1556.39 447.69,1561.54 467.93,1561.54 484.12,1561.54 497.07,1560.14 507.43,1560.14 515.72,1559.67 522.35,1559.20 527.65,1558.73 531.90,1562.48 535.29,1558.73 538.01,1560.61 540.18,1569.96 541.92,1575.11 543.31,1569.03" fill="none" stroke="#0000ff" stroke-width="4.0" stroke-linejoin="round" stroke-linecap="square"/>
<polyline points="66.40,1560.14 162.90,1559.20 240.09,1559.20 301.85,1564.35 351.25,1576.98 390.78,1567.62 422.40,1566.69 447.69,1559.67 467.93,1574.17 484.12,1574.17 497.07,1567.62 507.43,1584.00 515.72,1584.00 522.35,1599.91 527.65,1599.44 531.90,1589.62 535.29,1617.22 538.01,1625.18 540.18,1641.08 541.92,1695.83 543.31,1760.40" fill="none" stroke="#ff8c0f" stroke-width="4.0" stroke-linejoin="round" stroke-linecap="square"/>
<polyline points="66.40,1560.61 162.90,1560.61 240.09,1560.61 301.85,1560.61 351.25,1560.61 390.78,1563.18 422.40,1566.69 447.69,1565.52 467.93,1564.35 484.12,1562.24 497.07,1565.52 507.43,1565.52 515.72,1566.69 522.35,1576.98 527.65,1564.35 531.90,1569.96 535.29,1576.98 538.01,1576.98 540.18,1571.13 541.92,1580.26 543.31,1578.62" fill="none" stroke="#228b22" stroke-width="4.0" stroke-linejoin="round" stroke-linecap="square"/>
</g>
<polygon points="538.01,1552.57 539.76,1557.96 545.43,1557.96 540.84,1561.29 542.59,1566.68 538.01,1563.35 533.42,1566.68 535.18,1561.29 530.59,1557.96 536.26,1557.96" fill="#ff0000" stroke="#ff0000" stroke-width="0.8" stroke-linejoin="miter"/>
<rect x="63.50" y="1548.50" width="489.00" height="220.00" fill="none" stroke="#000" stroke-width="1.15"/>
<path d="M82.50 1768.50v4.1M105.50 1768.50v4.1M129.50 1768.50v4.1M152.50 1768.50v4.1M176.50 1768.50v4.1M199.50 1768.50v4.1M223.50 1768.50v4.1M246.50 1768.50v4.1M270.50 1768.50v4.1M293.50 1768.50v4.1M317.50 1768.50v4.1M340.50 1768.50v4.1M364.50 1768.50v4.1M387.50 1768.50v4.1M411.50 1768.50v4.1M434.50 1768.50v4.1M458.50 1768.50v4.1M481.50 1768.50v4.1M505.50 1768.50v4.1M528.50 1768.50v4.1M552.50 1768.50v4.1M63.50 1744.50h-4.1M63.50 1697.50h-4.1M63.50 1650.50h-4.1M63.50 1604.50h-4.1M63.50 1557.50h-4.1" stroke="#000" stroke-width="1.15" fill="none"/>
<text x="0" y="8.5" font-size="26" text-anchor="end" transform="translate(54.20 1745.29) scale(1 1.085)">40</text>
<text x="0" y="8.5" font-size="26" text-anchor="end" transform="translate(54.20 1698.50) scale(1 1.085)">50</text>
<text x="0" y="8.5" font-size="26" text-anchor="end" transform="translate(54.20 1651.71) scale(1 1.085)">60</text>
<text x="0" y="8.5" font-size="26" text-anchor="end" transform="translate(54.20 1604.92) scale(1 1.085)">70</text>
<text x="0" y="8.5" font-size="26" text-anchor="end" transform="translate(54.20 1558.13) scale(1 1.085)">80</text>
<text x="81.00" y="1792.72" font-size="16" text-anchor="middle" dominant-baseline="central" transform="rotate(-45 81.00 1792.72)">5000</text>
<text x="104.50" y="1792.72" font-size="16" text-anchor="middle" dominant-baseline="central" transform="rotate(-45 104.50 1792.72)">4750</text>
<text x="128.01" y="1792.72" font-size="16" text-anchor="middle" dominant-baseline="central" transform="rotate(-45 128.01 1792.72)">4500</text>
<text x="151.51" y="1792.72" font-size="16" text-anchor="middle" dominant-baseline="central" transform="rotate(-45 151.51 1792.72)">4250</text>
<text x="175.02" y="1792.72" font-size="16" text-anchor="middle" dominant-baseline="central" transform="rotate(-45 175.02 1792.72)">4000</text>
<text x="198.52" y="1792.72" font-size="16" text-anchor="middle" dominant-baseline="central" transform="rotate(-45 198.52 1792.72)">3750</text>
<text x="222.03" y="1792.72" font-size="16" text-anchor="middle" dominant-baseline="central" transform="rotate(-45 222.03 1792.72)">3500</text>
<text x="245.53" y="1792.72" font-size="16" text-anchor="middle" dominant-baseline="central" transform="rotate(-45 245.53 1792.72)">3250</text>
<text x="269.04" y="1792.72" font-size="16" text-anchor="middle" dominant-baseline="central" transform="rotate(-45 269.04 1792.72)">3000</text>
<text x="292.54" y="1792.72" font-size="16" text-anchor="middle" dominant-baseline="central" transform="rotate(-45 292.54 1792.72)">2750</text>
<text x="316.05" y="1792.72" font-size="16" text-anchor="middle" dominant-baseline="central" transform="rotate(-45 316.05 1792.72)">2500</text>
<text x="339.55" y="1792.72" font-size="16" text-anchor="middle" dominant-baseline="central" transform="rotate(-45 339.55 1792.72)">2250</text>
<text x="363.06" y="1792.72" font-size="16" text-anchor="middle" dominant-baseline="central" transform="rotate(-45 363.06 1792.72)">2000</text>
<text x="386.56" y="1792.72" font-size="16" text-anchor="middle" dominant-baseline="central" transform="rotate(-45 386.56 1792.72)">1750</text>
<text x="410.07" y="1792.72" font-size="16" text-anchor="middle" dominant-baseline="central" transform="rotate(-45 410.07 1792.72)">1500</text>
<text x="433.57" y="1792.72" font-size="16" text-anchor="middle" dominant-baseline="central" transform="rotate(-45 433.57 1792.72)">1250</text>
<text x="457.08" y="1792.72" font-size="16" text-anchor="middle" dominant-baseline="central" transform="rotate(-45 457.08 1792.72)">1000</text>
<text x="480.58" y="1789.89" font-size="16" text-anchor="middle" dominant-baseline="central" transform="rotate(-45 480.58 1789.89)">750</text>
<text x="504.09" y="1789.89" font-size="16" text-anchor="middle" dominant-baseline="central" transform="rotate(-45 504.09 1789.89)">500</text>
<text x="527.59" y="1789.89" font-size="16" text-anchor="middle" dominant-baseline="central" transform="rotate(-45 527.59 1789.89)">250</text>
<text x="551.10" y="1784.23" font-size="16" text-anchor="middle" dominant-baseline="central" transform="rotate(-45 551.10 1784.23)">0</text>
<text x="307.85" y="1832.33" font-size="24" text-anchor="middle">Inference MACs (M)</text>
<text x="17.6" y="1658.35" font-size="24" text-anchor="middle" transform="rotate(-90 17.6 1658.35)">Accuracy (PubMed)</text>
<rect x="74.60" y="1600.70" width="232.72" height="156.60" rx="4" ry="4" fill="#fff" fill-opacity="0.8" stroke="#cccccc" stroke-width="1"/>
<line x1="83.60" y1="1616.40" x2="125.30" y2="1616.40" stroke="#0000ff" stroke-width="4" stroke-linecap="square"/>
<text x="142.90" y="1623.60" font-size="21.3">UGS (Ours)</text>
<line x1="83.60" y1="1646.45" x2="125.30" y2="1646.45" stroke="#ff8c0f" stroke-width="4" stroke-linecap="square"/>
<text x="142.90" y="1653.65" font-size="21.3">Random Pruning</text>
<line x1="83.60" y1="1676.50" x2="125.30" y2="1676.50" stroke="#228b22" stroke-width="4" stroke-linecap="square"/>
<text x="142.90" y="1683.70" font-size="21.3">ADMM</text>
<line x1="83.40" y1="1706.55" x2="127.50" y2="1706.55" stroke="#000" stroke-width="4" stroke-dasharray="14.7 6.7"/>
<text x="142.90" y="1713.75" font-size="21.3">Baseline (5168M)</text>
<polygon points="104.50,1731.00 106.25,1736.39 111.92,1736.39 107.33,1739.72 109.08,1745.11 104.50,1741.78 99.92,1745.11 101.67,1739.72 97.08,1736.39 102.75,1736.39" fill="#ff0000" stroke="#ff0000" stroke-width="0.8" stroke-linejoin="miter"/>
<text x="142.90" y="1743.80" font-size="21.3">GLT (152M)</text>
<clipPath id="c51"><rect x="601.5" y="1548.3" width="487.79999999999995" height="220.10000000000014"/></clipPath>
<path d="M620.50 1768.40V1548.30M643.50 1768.40V1548.30M667.50 1768.40V1548.30M690.50 1768.40V1548.30M714.50 1768.40V1548.30M737.50 1768.40V1548.30M761.50 1768.40V1548.30M784.50 1768.40V1548.30M808.50 1768.40V1548.30M831.50 1768.40V1548.30M854.50 1768.40V1548.30M878.50 1768.40V1548.30M901.50 1768.40V1548.30M925.50 1768.40V1548.30M948.50 1768.40V1548.30M972.50 1768.40V1548.30M995.50 1768.40V1548.30M1018.50 1768.40V1548.30M1042.50 1768.40V1548.30M1065.50 1768.40V1548.30M1089.50 1768.40V1548.30M601.50 1768.50H1089.30M601.50 1724.50H1089.30M601.50 1680.50H1089.30M601.50 1636.50H1089.30M601.50 1592.50H1089.30M601.50 1548.50H1089.30" stroke="#a6a6a6" stroke-width="1" stroke-dasharray="3.7 1.9" fill="none" clip-path="url(#c51)"/>
<g clip-path="url(#c51)">
<line x1="589.74" y1="1598.92" x2="1109.30" y2="1598.92" stroke="#000" stroke-width="4" stroke-dasharray="14.8 6.4"/>
<polyline points="602.87,1598.92 698.97,1596.72 775.85,1592.32 837.35,1576.91 886.56,1562.61 925.92,1567.01 957.41,1603.33 982.60,1597.82 1002.75,1596.72 1018.88,1592.32 1031.78,1608.83 1042.09,1583.52 1050.35,1583.52 1056.95,1590.12 1062.24,1614.33 1066.46,1628.64 1069.84,1649.55 1072.55,1656.15 1074.71,1636.34 1076.44,1617.63 1077.83,1645.14" fill="none" stroke="#0000ff" stroke-width="4.0" stroke-linejoin="round" stroke-linecap="square"/>
<polyline points="602.87,1596.72 698.97,1616.53 775.85,1603.33 837.35,1608.83 886.56,1627.54 925.92,1614.33 957.41,1655.05 982.60,1637.44 1002.75,1641.84 1018.88,1647.35 1031.78,1622.03 1042.09,1636.34 1050.35,1662.75 1056.95,1673.76 1062.24,1697.97 1066.46,1669.36 1069.84,1695.77 1072.55,1666.05 1074.71,1708.97 1076.44,1702.37 1077.83,1724.38" fill="none" stroke="#ff8c0f" stroke-width="4.0" stroke-linejoin="round" stroke-linecap="square"/>
</g>
<polygon points="1056.95,1581.22 1058.70,1586.61 1064.37,1586.61 1059.79,1589.94 1061.54,1595.33 1056.95,1592.00 1052.37,1595.33 1054.12,1589.94 1049.53,1586.61 1055.20,1586.61" fill="#ff0000" stroke="#ff0000" stroke-width="0.8" stroke-linejoin="miter"/>
<rect x="601.50" y="1548.50" width="488.00" height="220.00" fill="none" stroke="#000" stroke-width="1.15"/>
<path d="M620.50 1768.50v4.1M643.50 1768.50v4.1M667.50 1768.50v4.1M690.50 1768.50v4.1M714.50 1768.50v4.1M737.50 1768.50v4.1M761.50 1768.50v4.1M784.50 1768.50v4.1M808.50 1768.50v4.1M831.50 1768.50v4.1M854.50 1768.50v4.1M878.50 1768.50v4.1M901.50 1768.50v4.1M925.50 1768.50v4.1M948.50 1768.50v4.1M972.50 1768.50v4.1M995.50 1768.50v4.1M1018.50 1768.50v4.1M1042.50 1768.50v4.1M1065.50 1768.50v4.1M1089.50 1768.50v4.1M601.50 1768.50h-4.1M601.50 1724.50h-4.1M601.50 1680.50h-4.1M601.50 1636.50h-4.1M601.50 1592.50h-4.1M601.50 1548.50h-4.1" stroke="#000" stroke-width="1.15" fill="none"/>
<text x="0" y="8.5" font-size="26" text-anchor="end" transform="translate(592.30 1769.20) scale(1 1.085)">70</text>
<text x="0" y="8.5" font-size="26" text-anchor="end" transform="translate(592.30 1725.18) scale(1 1.085)">72</text>
<text x="0" y="8.5" font-size="26" text-anchor="end" transform="translate(592.30 1681.16) scale(1 1.085)">74</text>
<text x="0" y="8.5" font-size="26" text-anchor="end" transform="translate(592.30 1637.14) scale(1 1.085)">76</text>
<text x="0" y="8.5" font-size="26" text-anchor="end" transform="translate(592.30 1593.12) scale(1 1.085)">78</text>
<text x="0" y="8.5" font-size="26" text-anchor="end" transform="translate(592.30 1549.10) scale(1 1.085)">80</text>
<text x="619.30" y="1792.72" font-size="16" text-anchor="middle" dominant-baseline="central" transform="rotate(-45 619.30 1792.72)">5000</text>
<text x="642.74" y="1792.72" font-size="16" text-anchor="middle" dominant-baseline="central" transform="rotate(-45 642.74 1792.72)">4750</text>
<text x="666.18" y="1792.72" font-size="16" text-anchor="middle" dominant-baseline="central" transform="rotate(-45 666.18 1792.72)">4500</text>
<text x="689.62" y="1792.72" font-size="16" text-anchor="middle" dominant-baseline="central" transform="rotate(-45 689.62 1792.72)">4250</text>
<text x="713.06" y="1792.72" font-size="16" text-anchor="middle" dominant-baseline="central" transform="rotate(-45 713.06 1792.72)">4000</text>
<text x="736.50" y="1792.72" font-size="16" text-anchor="middle" dominant-baseline="central" transform="rotate(-45 736.50 1792.72)">3750</text>
<text x="759.94" y="1792.72" font-size="16" text-anchor="middle" dominant-baseline="central" transform="rotate(-45 759.94 1792.72)">3500</text>
<text x="783.38" y="1792.72" font-size="16" text-anchor="middle" dominant-baseline="central" transform="rotate(-45 783.38 1792.72)">3250</text>
<text x="806.82" y="1792.72" font-size="16" text-anchor="middle" dominant-baseline="central" transform="rotate(-45 806.82 1792.72)">3000</text>
<text x="830.26" y="1792.72" font-size="16" text-anchor="middle" dominant-baseline="central" transform="rotate(-45 830.26 1792.72)">2750</text>
<text x="853.70" y="1792.72" font-size="16" text-anchor="middle" dominant-baseline="central" transform="rotate(-45 853.70 1792.72)">2500</text>
<text x="877.14" y="1792.72" font-size="16" text-anchor="middle" dominant-baseline="central" transform="rotate(-45 877.14 1792.72)">2250</text>
<text x="900.58" y="1792.72" font-size="16" text-anchor="middle" dominant-baseline="central" transform="rotate(-45 900.58 1792.72)">2000</text>
<text x="924.02" y="1792.72" font-size="16" text-anchor="middle" dominant-baseline="central" transform="rotate(-45 924.02 1792.72)">1750</text>
<text x="947.46" y="1792.72" font-size="16" text-anchor="middle" dominant-baseline="central" transform="rotate(-45 947.46 1792.72)">1500</text>
<text x="970.90" y="1792.72" font-size="16" text-anchor="middle" dominant-baseline="central" transform="rotate(-45 970.90 1792.72)">1250</text>
<text x="994.34" y="1792.72" font-size="16" text-anchor="middle" dominant-baseline="central" transform="rotate(-45 994.34 1792.72)">1000</text>
<text x="1017.78" y="1789.89" font-size="16" text-anchor="middle" dominant-baseline="central" transform="rotate(-45 1017.78 1789.89)">750</text>
<text x="1041.22" y="1789.89" font-size="16" text-anchor="middle" dominant-baseline="central" transform="rotate(-45 1041.22 1789.89)">500</text>
<text x="1064.66" y="1789.89" font-size="16" text-anchor="middle" dominant-baseline="central" transform="rotate(-45 1064.66 1789.89)">250</text>
<text x="1088.10" y="1784.23" font-size="16" text-anchor="middle" dominant-baseline="central" transform="rotate(-45 1088.10 1784.23)">0</text>
<text x="845.40" y="1832.33" font-size="24" text-anchor="middle">Inference MACs (M)</text>
<rect x="612.70" y="1630.75" width="232.72" height="126.55" rx="4" ry="4" fill="#fff" fill-opacity="0.8" stroke="#cccccc" stroke-width="1"/>
<line x1="621.70" y1="1646.45" x2="663.40" y2="1646.45" stroke="#0000ff" stroke-width="4" stroke-linecap="square"/>
<text x="681.00" y="1653.65" font-size="21.3">UGS (Ours)</text>
<line x1="621.70" y1="1676.50" x2="663.40" y2="1676.50" stroke="#ff8c0f" stroke-width="4" stroke-linecap="square"/>
<text x="681.00" y="1683.70" font-size="21.3">Random Pruning</text>
<line x1="621.50" y1="1706.55" x2="665.60" y2="1706.55" stroke="#000" stroke-width="4" stroke-dasharray="14.7 6.7"/>
<text x="681.00" y="1713.75" font-size="21.3">Baseline (5188M)</text>
<polygon points="642.60,1731.00 644.35,1736.39 650.02,1736.39 645.43,1739.72 647.18,1745.11 642.60,1741.78 638.02,1745.11 639.77,1739.72 635.18,1736.39 640.85,1736.39" fill="#ff0000" stroke="#ff0000" stroke-width="0.8" stroke-linejoin="miter"/>
<text x="681.00" y="1743.80" font-size="21.3">GLT (345M)</text>
<clipPath id="c52"><rect x="1138.4" y="1548.3" width="489.0999999999999" height="220.10000000000014"/></clipPath>
<path d="M1150.50 1768.40V1548.30M1174.50 1768.40V1548.30M1197.50 1768.40V1548.30M1221.50 1768.40V1548.30M1245.50 1768.40V1548.30M1269.50 1768.40V1548.30M1293.50 1768.40V1548.30M1317.50 1768.40V1548.30M1341.50 1768.40V1548.30M1364.50 1768.40V1548.30M1388.50 1768.40V1548.30M1412.50 1768.40V1548.30M1436.50 1768.40V1548.30M1460.50 1768.40V1548.30M1484.50 1768.40V1548.30M1508.50 1768.40V1548.30M1532.50 1768.40V1548.30M1555.50 1768.40V1548.30M1579.50 1768.40V1548.30M1603.50 1768.40V1548.30M1627.50 1768.40V1548.30M1138.40 1768.50H1627.50M1138.40 1731.50H1627.50M1138.40 1695.50H1627.50M1138.40 1658.50H1627.50M1138.40 1621.50H1627.50M1138.40 1584.50H1627.50M1138.40 1548.50H1627.50" stroke="#a6a6a6" stroke-width="1" stroke-dasharray="3.7 1.9" fill="none" clip-path="url(#c52)"/>
<g clip-path="url(#c52)">
<line x1="1127.19" y1="1603.33" x2="1647.50" y2="1603.33" stroke="#000" stroke-width="4" stroke-dasharray="14.8 6.4"/>
<polyline points="1140.35,1603.33 1237.38,1584.98 1315.01,1588.65 1377.11,1588.65 1426.79,1595.99 1466.53,1595.99 1498.33,1588.65 1523.77,1592.32 1544.12,1577.65 1560.40,1577.65 1573.42,1577.65 1583.84,1559.30 1592.17,1559.30 1598.84,1573.98 1604.18,1581.32 1608.44,1570.31 1611.86,1566.64 1614.59,1599.66 1616.77,1618.00 1618.52,1621.67 1619.92,1640.01" fill="none" stroke="#0000ff" stroke-width="4.0" stroke-linejoin="round" stroke-linecap="square"/>
<polyline points="1140.35,1603.33 1237.38,1625.33 1315.01,1629.00 1377.11,1621.67 1426.79,1629.00 1466.53,1625.33 1498.33,1614.33 1523.77,1610.66 1544.12,1614.33 1560.40,1610.66 1573.42,1610.66 1583.84,1606.99 1592.17,1610.66 1598.84,1636.34 1604.18,1629.00 1608.44,1606.99 1611.86,1610.66 1614.59,1614.33 1616.77,1647.35 1618.52,1674.86 1619.92,1698.70" fill="none" stroke="#ff8c0f" stroke-width="4.0" stroke-linejoin="round" stroke-linecap="square"/>
</g>
<polygon points="1614.59,1591.86 1616.34,1597.25 1622.01,1597.25 1617.42,1600.58 1619.17,1605.97 1614.59,1602.64 1610.00,1605.97 1611.75,1600.58 1607.17,1597.25 1612.84,1597.25" fill="#ff0000" stroke="#ff0000" stroke-width="0.8" stroke-linejoin="miter"/>
<rect x="1138.50" y="1548.50" width="489.00" height="220.00" fill="none" stroke="#000" stroke-width="1.15"/>
<path d="M1150.50 1768.50v4.1M1174.50 1768.50v4.1M1197.50 1768.50v4.1M1221.50 1768.50v4.1M1245.50 1768.50v4.1M1269.50 1768.50v4.1M1293.50 1768.50v4.1M1317.50 1768.50v4.1M1341.50 1768.50v4.1M1364.50 1768.50v4.1M1388.50 1768.50v4.1M1412.50 1768.50v4.1M1436.50 1768.50v4.1M1460.50 1768.50v4.1M1484.50 1768.50v4.1M1508.50 1768.50v4.1M1532.50 1768.50v4.1M1555.50 1768.50v4.1M1579.50 1768.50v4.1M1603.50 1768.50v4.1M1627.50 1768.50v4.1M1138.50 1768.50h-4.1M1138.50 1731.50h-4.1M1138.50 1695.50h-4.1M1138.50 1658.50h-4.1M1138.50 1621.50h-4.1M1138.50 1584.50h-4.1M1138.50 1548.50h-4.1" stroke="#000" stroke-width="1.15" fill="none"/>
<text x="0" y="8.5" font-size="26" text-anchor="end" transform="translate(1129.20 1769.20) scale(1 1.085)">74</text>
<text x="0" y="8.5" font-size="26" text-anchor="end" transform="translate(1129.20 1732.52) scale(1 1.085)">75</text>
<text x="0" y="8.5" font-size="26" text-anchor="end" transform="translate(1129.20 1695.83) scale(1 1.085)">76</text>
<text x="0" y="8.5" font-size="26" text-anchor="end" transform="translate(1129.20 1659.15) scale(1 1.085)">77</text>
<text x="0" y="8.5" font-size="26" text-anchor="end" transform="translate(1129.20 1622.47) scale(1 1.085)">78</text>
<text x="0" y="8.5" font-size="26" text-anchor="end" transform="translate(1129.20 1585.78) scale(1 1.085)">79</text>
<text x="0" y="8.5" font-size="26" text-anchor="end" transform="translate(1129.20 1549.10) scale(1 1.085)">80</text>
<text x="1148.98" y="1795.54" font-size="16" text-anchor="middle" dominant-baseline="central" transform="rotate(-45 1148.98 1795.54)">40000</text>
<text x="1172.85" y="1795.54" font-size="16" text-anchor="middle" dominant-baseline="central" transform="rotate(-45 1172.85 1795.54)">38000</text>
<text x="1196.71" y="1795.54" font-size="16" text-anchor="middle" dominant-baseline="central" transform="rotate(-45 1196.71 1795.54)">36000</text>
<text x="1220.58" y="1795.54" font-size="16" text-anchor="middle" dominant-baseline="central" transform="rotate(-45 1220.58 1795.54)">34000</text>
<text x="1244.44" y="1795.54" font-size="16" text-anchor="middle" dominant-baseline="central" transform="rotate(-45 1244.44 1795.54)">32000</text>
<text x="1268.31" y="1795.54" font-size="16" text-anchor="middle" dominant-baseline="central" transform="rotate(-45 1268.31 1795.54)">30000</text>
<text x="1292.18" y="1795.54" font-size="16" text-anchor="middle" dominant-baseline="central" transform="rotate(-45 1292.18 1795.54)">28000</text>
<text x="1316.04" y="1795.54" font-size="16" text-anchor="middle" dominant-baseline="central" transform="rotate(-45 1316.04 1795.54)">26000</text>
<text x="1339.91" y="1795.54" font-size="16" text-anchor="middle" dominant-baseline="central" transform="rotate(-45 1339.91 1795.54)">24000</text>
<text x="1363.77" y="1795.54" font-size="16" text-anchor="middle" dominant-baseline="central" transform="rotate(-45 1363.77 1795.54)">22000</text>
<text x="1387.64" y="1795.54" font-size="16" text-anchor="middle" dominant-baseline="central" transform="rotate(-45 1387.64 1795.54)">20000</text>
<text x="1411.51" y="1795.54" font-size="16" text-anchor="middle" dominant-baseline="central" transform="rotate(-45 1411.51 1795.54)">18000</text>
<text x="1435.37" y="1795.54" font-size="16" text-anchor="middle" dominant-baseline="central" transform="rotate(-45 1435.37 1795.54)">16000</text>
<text x="1459.24" y="1795.54" font-size="16" text-anchor="middle" dominant-baseline="central" transform="rotate(-45 1459.24 1795.54)">14000</text>
<text x="1483.10" y="1795.54" font-size="16" text-anchor="middle" dominant-baseline="central" transform="rotate(-45 1483.10 1795.54)">12000</text>
<text x="1506.97" y="1795.54" font-size="16" text-anchor="middle" dominant-baseline="central" transform="rotate(-45 1506.97 1795.54)">10000</text>
<text x="1530.84" y="1792.72" font-size="16" text-anchor="middle" dominant-baseline="central" transform="rotate(-45 1530.84 1792.72)">8000</text>
<text x="1554.70" y="1792.72" font-size="16" text-anchor="middle" dominant-baseline="central" transform="rotate(-45 1554.70 1792.72)">6000</text>
<text x="1578.57" y="1792.72" font-size="16" text-anchor="middle" dominant-baseline="central" transform="rotate(-45 1578.57 1792.72)">4000</text>
<text x="1602.43" y="1792.72" font-size="16" text-anchor="middle" dominant-baseline="central" transform="rotate(-45 1602.43 1792.72)">2000</text>
<text x="1626.30" y="1784.23" font-size="16" text-anchor="middle" dominant-baseline="central" transform="rotate(-45 1626.30 1784.23)">0</text>
<text x="1382.95" y="1837.98" font-size="24" text-anchor="middle">Inference MACs (M)</text>
<rect x="1149.60" y="1630.75" width="243.38" height="126.55" rx="4" ry="4" fill="#fff" fill-opacity="0.8" stroke="#cccccc" stroke-width="1"/>
<line x1="1158.60" y1="1646.45" x2="1200.30" y2="1646.45" stroke="#0000ff" stroke-width="4" stroke-linecap="square"/>
<text x="1217.90" y="1653.65" font-size="21.3">UGS (Ours)</text>
<line x1="1158.60" y1="1676.50" x2="1200.30" y2="1676.50" stroke="#ff8c0f" stroke-width="4" stroke-linecap="square"/>
<text x="1217.90" y="1683.70" font-size="21.3">Random Pruning</text>
<line x1="1158.40" y1="1706.55" x2="1202.50" y2="1706.55" stroke="#000" stroke-width="4" stroke-dasharray="14.7 6.7"/>
<text x="1217.90" y="1713.75" font-size="21.3">Baseline (40824M)</text>
<polygon points="1179.50,1731.00 1181.25,1736.39 1186.92,1736.39 1182.33,1739.72 1184.08,1745.11 1179.50,1741.78 1174.92,1745.11 1176.67,1739.72 1172.08,1736.39 1177.75,1736.39" fill="#ff0000" stroke="#ff0000" stroke-width="0.8" stroke-linejoin="miter"/>
<text x="1217.90" y="1743.80" font-size="21.3">GLT (1082M)</text>
</svg></body></html>
